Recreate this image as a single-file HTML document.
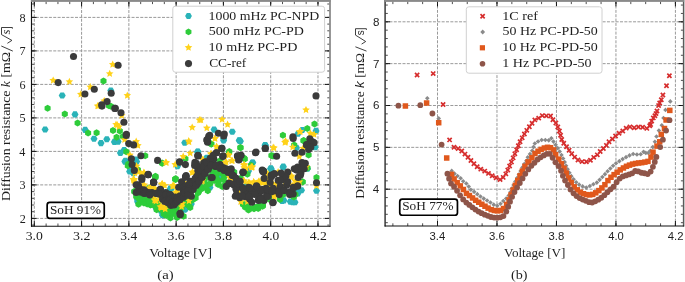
<!DOCTYPE html>
<html><head><meta charset="utf-8"><style>
html,body{margin:0;padding:0;background:#fff;}
body{width:685px;height:282px;overflow:hidden;position:relative;}
svg{position:absolute;left:0;top:0;will-change:transform;}
.grid{stroke:#9a9a9a;stroke-width:1.0;stroke-dasharray:3 1.35;fill:none;}
.frame{fill:none;stroke:#111;stroke-width:1.15;}
.tmaj{stroke:#111;stroke-width:1;fill:none;}
.tmin{stroke:#222;stroke-width:0.8;fill:none;}
text{font-family:"Liberation Serif", serif;fill:#1e1e1e;}
.sans{font-family:"Liberation Sans", sans-serif;}
</style></head><body>
<svg width="685" height="282" viewBox="0 0 685 282">
<line x1="34.30" y1="226.2" x2="34.30" y2="0.0" class="grid"/>
<line x1="81.58" y1="226.2" x2="81.58" y2="0.0" class="grid"/>
<line x1="128.86" y1="226.2" x2="128.86" y2="0.0" class="grid"/>
<line x1="176.14" y1="226.2" x2="176.14" y2="0.0" class="grid"/>
<line x1="223.42" y1="226.2" x2="223.42" y2="0.0" class="grid"/>
<line x1="270.70" y1="226.2" x2="270.70" y2="0.0" class="grid"/>
<line x1="317.98" y1="226.2" x2="317.98" y2="0.0" class="grid"/>
<line x1="31.5" y1="218.40" x2="330.0" y2="218.40" class="grid"/>
<line x1="31.5" y1="184.90" x2="330.0" y2="184.90" class="grid"/>
<line x1="31.5" y1="151.40" x2="330.0" y2="151.40" class="grid"/>
<line x1="31.5" y1="117.90" x2="330.0" y2="117.90" class="grid"/>
<line x1="31.5" y1="84.40" x2="330.0" y2="84.40" class="grid"/>
<line x1="31.5" y1="50.90" x2="330.0" y2="50.90" class="grid"/>
<line x1="31.5" y1="17.40" x2="330.0" y2="17.40" class="grid"/>
<g transform="translate(0.2,0.4)">
<polygon points="65.50,95.10 63.75,92.07 60.25,92.07 58.50,95.10 60.25,98.13 63.75,98.13" fill="#2ab3b8"/>
<polygon points="114.10,90.20 112.35,87.17 108.85,87.17 107.10,90.20 108.85,93.23 112.35,93.23" fill="#2ab3b8"/>
<polygon points="78.30,114.00 76.55,110.97 73.05,110.97 71.30,114.00 73.05,117.03 76.55,117.03" fill="#2ab3b8"/>
<polygon points="48.40,129.10 46.65,126.07 43.15,126.07 41.40,129.10 43.15,132.13 46.65,132.13" fill="#2ab3b8"/>
<polygon points="88.50,129.50 86.75,126.47 83.25,126.47 81.50,129.50 83.25,132.53 86.75,132.53" fill="#2ab3b8"/>
<polygon points="97.30,138.30 95.55,135.27 92.05,135.27 90.30,138.30 92.05,141.33 95.55,141.33" fill="#2ab3b8"/>
<polygon points="104.30,142.70 102.55,139.67 99.05,139.67 97.30,142.70 99.05,145.73 102.55,145.73" fill="#2ab3b8"/>
<polygon points="110.10,138.90 108.35,135.87 104.85,135.87 103.10,138.90 104.85,141.93 108.35,141.93" fill="#2ab3b8"/>
<polygon points="117.70,141.50 115.95,138.47 112.45,138.47 110.70,141.50 112.45,144.53 115.95,144.53" fill="#2ab3b8"/>
<polygon points="121.40,141.20 119.65,138.17 116.15,138.17 114.40,141.20 116.15,144.23 119.65,144.23" fill="#2ab3b8"/>
<polygon points="123.70,152.50 121.95,149.47 118.45,149.47 116.70,152.50 118.45,155.53 121.95,155.53" fill="#2ab3b8"/>
<polygon points="127.40,149.60 125.65,146.57 122.15,146.57 120.40,149.60 122.15,152.63 125.65,152.63" fill="#2ab3b8"/>
<polygon points="128.80,160.50 127.05,157.47 123.55,157.47 121.80,160.50 123.55,163.53 127.05,163.53" fill="#2ab3b8"/>
<polygon points="139.00,159.10 137.25,156.07 133.75,156.07 132.00,159.10 133.75,162.13 137.25,162.13" fill="#2ab3b8"/>
<polygon points="188.00,142.30 186.25,139.27 182.75,139.27 181.00,142.30 182.75,145.33 186.25,145.33" fill="#2ab3b8"/>
<polygon points="201.10,151.80 199.35,148.77 195.85,148.77 194.10,151.80 195.85,154.83 199.35,154.83" fill="#2ab3b8"/>
<polygon points="134.70,169.30 132.95,166.27 129.45,166.27 127.70,169.30 129.45,172.33 132.95,172.33" fill="#2ab3b8"/>
<polygon points="209.90,157.60 208.15,154.57 204.65,154.57 202.90,157.60 204.65,160.63 208.15,160.63" fill="#2ab3b8"/>
<polygon points="128.20,161.20 126.45,158.17 122.95,158.17 121.20,161.20 122.95,164.23 126.45,164.23" fill="#2ab3b8"/>
<polygon points="132.90,171.10 131.15,168.07 127.65,168.07 125.90,171.10 127.65,174.13 131.15,174.13" fill="#2ab3b8"/>
<polygon points="139.90,161.20 138.15,158.17 134.65,158.17 132.90,161.20 134.65,164.23 138.15,164.23" fill="#2ab3b8"/>
<polygon points="173.80,188.10 172.05,185.07 168.55,185.07 166.80,188.10 168.55,191.13 172.05,191.13" fill="#2ab3b8"/>
<polygon points="180.80,165.80 179.05,162.77 175.55,162.77 173.80,165.80 175.55,168.83 179.05,168.83" fill="#2ab3b8"/>
<polygon points="217.40,129.20 215.65,126.17 212.15,126.17 210.40,129.20 212.15,132.23 215.65,132.23" fill="#2ab3b8"/>
<polygon points="235.60,131.40 233.85,128.37 230.35,128.37 228.60,131.40 230.35,134.43 233.85,134.43" fill="#2ab3b8"/>
<polygon points="226.90,138.20 225.15,135.17 221.65,135.17 219.90,138.20 221.65,141.23 225.15,141.23" fill="#2ab3b8"/>
<polygon points="242.90,140.10 241.15,137.07 237.65,137.07 235.90,140.10 237.65,143.13 241.15,143.13" fill="#2ab3b8"/>
<polygon points="301.30,133.30 299.55,130.27 296.05,130.27 294.30,133.30 296.05,136.33 299.55,136.33" fill="#2ab3b8"/>
<polygon points="242.50,140.00 240.75,136.97 237.25,136.97 235.50,140.00 237.25,143.03 240.75,143.03" fill="#2ab3b8"/>
<polygon points="201.00,151.10 199.25,148.07 195.75,148.07 194.00,151.10 195.75,154.13 199.25,154.13" fill="#2ab3b8"/>
<polygon points="210.30,157.30 208.55,154.27 205.05,154.27 203.30,157.30 205.05,160.33 208.55,160.33" fill="#2ab3b8"/>
<polygon points="268.60,144.90 266.85,141.87 263.35,141.87 261.60,144.90 263.35,147.93 266.85,147.93" fill="#2ab3b8"/>
<polygon points="255.60,162.30 253.85,159.27 250.35,159.27 248.60,162.30 250.35,165.33 253.85,165.33" fill="#2ab3b8"/>
<polygon points="274.20,167.90 272.45,164.87 268.95,164.87 267.20,167.90 268.95,170.93 272.45,170.93" fill="#2ab3b8"/>
<polygon points="299.80,147.40 298.05,144.37 294.55,144.37 292.80,147.40 294.55,150.43 298.05,150.43" fill="#2ab3b8"/>
<polygon points="318.50,146.80 316.75,143.77 313.25,143.77 311.50,146.80 313.25,149.83 316.75,149.83" fill="#2ab3b8"/>
<polygon points="286.60,166.10 284.85,163.07 281.35,163.07 279.60,166.10 281.35,169.13 284.85,169.13" fill="#2ab3b8"/>
<polygon points="304.80,189.80 303.05,186.77 299.55,186.77 297.80,189.80 299.55,192.83 303.05,192.83" fill="#2ab3b8"/>
<polygon points="310.80,168.30 309.05,165.27 305.55,165.27 303.80,168.30 305.55,171.33 309.05,171.33" fill="#2ab3b8"/>
<polygon points="319.80,190.40 318.05,187.37 314.55,187.37 312.80,190.40 314.55,193.43 318.05,193.43" fill="#2ab3b8"/>
<polygon points="285.40,200.60 283.65,197.57 280.15,197.57 278.40,200.60 280.15,203.63 283.65,203.63" fill="#2ab3b8"/>
<polygon points="293.60,201.20 291.85,198.17 288.35,198.17 286.60,201.20 288.35,204.23 291.85,204.23" fill="#2ab3b8"/>
<polygon points="298.30,201.80 296.55,198.77 293.05,198.77 291.30,201.80 293.05,204.83 296.55,204.83" fill="#2ab3b8"/>
<polygon points="301.20,193.00 299.45,189.97 295.95,189.97 294.20,193.00 295.95,196.03 299.45,196.03" fill="#2ab3b8"/>
<polygon points="223.20,177.70 221.45,174.67 217.95,174.67 216.20,177.70 217.95,180.73 221.45,180.73" fill="#2ab3b8"/>
<polygon points="213.30,187.00 211.55,183.97 208.05,183.97 206.30,187.00 208.05,190.03 211.55,190.03" fill="#2ab3b8"/>
<polygon points="251.80,170.50 250.05,167.47 246.55,167.47 244.80,170.50 246.55,173.53 250.05,173.53" fill="#2ab3b8"/>
<polygon points="194.60,203.50 192.85,200.47 189.35,200.47 187.60,203.50 189.35,206.53 192.85,206.53" fill="#2ab3b8"/>
<polygon points="248.50,203.50 246.75,200.47 243.25,200.47 241.50,203.50 243.25,206.53 246.75,206.53" fill="#2ab3b8"/>
<polygon points="141.70,202.00 139.95,198.97 136.45,198.97 134.70,202.00 136.45,205.03 139.95,205.03" fill="#2ab3b8"/>
<polygon points="187.90,208.60 186.15,205.57 182.65,205.57 180.90,208.60 182.65,211.63 186.15,211.63" fill="#2ab3b8"/>
<polygon points="166.00,214.80 164.25,211.77 160.75,211.77 159.00,214.80 160.75,217.83 164.25,217.83" fill="#2ab3b8"/>
<polygon points="140.70,199.40 138.95,196.37 135.45,196.37 133.70,199.40 135.45,202.43 138.95,202.43" fill="#2ab3b8"/>
<polygon points="159.40,207.10 157.65,204.07 154.15,204.07 152.40,207.10 154.15,210.13 157.65,210.13" fill="#2ab3b8"/>
<polygon points="268.40,144.70 266.65,141.67 263.15,141.67 261.40,144.70 263.15,147.73 266.65,147.73" fill="#2ab3b8"/>
<polygon points="305.60,129.60 303.85,126.57 300.35,126.57 298.60,129.60 300.35,132.63 303.85,132.63" fill="#2ab3b8"/>
<polygon points="319.30,130.50 317.55,127.47 314.05,127.47 312.30,130.50 314.05,133.53 317.55,133.53" fill="#2ab3b8"/>
<polygon points="173.60,188.80 171.85,185.77 168.35,185.77 166.60,188.80 168.35,191.83 171.85,191.83" fill="#2ab3b8"/>
<polygon points="201.20,151.50 199.45,148.47 195.95,148.47 194.20,151.50 195.95,154.53 199.45,154.53" fill="#2ab3b8"/>
<polygon points="243.70,140.90 241.95,137.87 238.45,137.87 236.70,140.90 238.45,143.93 241.95,143.93" fill="#2ab3b8"/>
<polygon points="226.90,140.00 225.15,136.97 221.65,136.97 219.90,140.00 221.65,143.03 225.15,143.03" fill="#2ab3b8"/>
<polygon points="268.50,145.30 266.75,142.27 263.25,142.27 261.50,145.30 263.25,148.33 266.75,148.33" fill="#2ab3b8"/>
<polygon points="256.10,162.20 254.35,159.17 250.85,159.17 249.10,162.20 250.85,165.23 254.35,165.23" fill="#2ab3b8"/>
<polygon points="273.90,168.40 272.15,165.37 268.65,165.37 266.90,168.40 268.65,171.43 272.15,171.43" fill="#2ab3b8"/>
<polygon points="210.90,157.70 209.15,154.67 205.65,154.67 203.90,157.70 205.65,160.73 209.15,160.73" fill="#2ab3b8"/>
<polygon points="223.30,177.20 221.55,174.17 218.05,174.17 216.30,177.20 218.05,180.23 221.55,180.23" fill="#2ab3b8"/>
<polygon points="249.90,184.30 248.15,181.27 244.65,181.27 242.90,184.30 244.65,187.33 248.15,187.33" fill="#2ab3b8"/>
<polygon points="202.00,188.80 200.25,185.77 196.75,185.77 195.00,188.80 196.75,191.83 200.25,191.83" fill="#2ab3b8"/>
<polygon points="174.60,188.00 172.85,184.97 169.35,184.97 167.60,188.00 169.35,191.03 172.85,191.03" fill="#2ab3b8"/>
<polygon points="133.80,168.50 132.05,165.47 128.55,165.47 126.80,168.50 128.55,171.53 132.05,171.53" fill="#2ab3b8"/>
<polygon points="164.00,210.20 162.25,207.17 158.75,207.17 157.00,210.20 158.75,213.23 162.25,213.23" fill="#2ab3b8"/>
<polygon points="187.90,209.30 186.15,206.27 182.65,206.27 180.90,209.30 182.65,212.33 186.15,212.33" fill="#2ab3b8"/>
<polygon points="274.60,168.80 272.85,165.77 269.35,165.77 267.60,168.80 269.35,171.83 272.85,171.83" fill="#2ab3b8"/>
<polygon points="286.30,166.80 284.55,163.77 281.05,163.77 279.30,166.80 281.05,169.83 284.55,169.83" fill="#2ab3b8"/>
<polygon points="287.20,200.00 285.45,196.97 281.95,196.97 280.20,200.00 281.95,203.03 285.45,203.03" fill="#2ab3b8"/>
<polygon points="296.00,201.90 294.25,198.87 290.75,198.87 289.00,201.90 290.75,204.93 294.25,204.93" fill="#2ab3b8"/>
<polygon points="301.90,189.20 300.15,186.17 296.65,186.17 294.90,189.20 296.65,192.23 300.15,192.23" fill="#2ab3b8"/>
<polygon points="174.80,187.60 173.05,184.57 169.55,184.57 167.80,187.60 169.55,190.63 173.05,190.63" fill="#2ab3b8"/>
<polygon points="161.50,202.40 159.75,199.37 156.25,199.37 154.50,202.40 156.25,205.43 159.75,205.43" fill="#2ab3b8"/>
<polygon points="166.20,212.50 164.45,209.47 160.95,209.47 159.20,212.50 160.95,215.53 164.45,215.53" fill="#2ab3b8"/>
<polygon points="188.80,208.60 187.05,205.57 183.55,205.57 181.80,208.60 183.55,211.63 187.05,211.63" fill="#2ab3b8"/>
<polygon points="136.60,172.80 134.85,169.77 131.35,169.77 129.60,172.80 131.35,175.83 134.85,175.83" fill="#2ab3b8"/>
<polygon points="140.90,201.30 139.15,198.27 135.65,198.27 133.90,201.30 135.65,204.33 139.15,204.33" fill="#2ab3b8"/>
<polygon points="159.50,208.20 157.75,205.17 154.25,205.17 152.50,208.20 154.25,211.23 157.75,211.23" fill="#2ab3b8"/>
<polygon points="165.90,214.60 164.15,211.57 160.65,211.57 158.90,214.60 160.65,217.63 164.15,217.63" fill="#2ab3b8"/>
<polygon points="106.33,78.75 103.30,77.00 100.27,78.75 100.27,82.25 103.30,84.00 106.33,82.25" fill="#2ecc3a"/>
<polygon points="50.43,106.05 47.40,104.30 44.37,106.05 44.37,109.55 47.40,111.30 50.43,109.55" fill="#2ecc3a"/>
<polygon points="67.63,111.75 64.60,110.00 61.57,111.75 61.57,115.25 64.60,117.00 67.63,115.25" fill="#2ecc3a"/>
<polygon points="111.83,103.55 108.80,101.80 105.77,103.55 105.77,107.05 108.80,108.80 111.83,107.05" fill="#2ecc3a"/>
<polygon points="80.43,120.75 77.40,119.00 74.37,120.75 74.37,124.25 77.40,126.00 80.43,124.25" fill="#2ecc3a"/>
<polygon points="90.93,130.95 87.90,129.20 84.87,130.95 84.87,134.45 87.90,136.20 90.93,134.45" fill="#2ecc3a"/>
<polygon points="99.43,130.65 96.40,128.90 93.37,130.65 93.37,134.15 96.40,135.90 99.43,134.15" fill="#2ecc3a"/>
<polygon points="115.83,128.35 112.80,126.60 109.77,128.35 109.77,131.85 112.80,133.60 115.83,131.85" fill="#2ecc3a"/>
<polygon points="122.63,128.75 119.60,127.00 116.57,128.75 116.57,132.25 119.60,134.00 122.63,132.25" fill="#2ecc3a"/>
<polygon points="119.43,135.05 116.40,133.30 113.37,135.05 113.37,138.55 116.40,140.30 119.43,138.55" fill="#2ecc3a"/>
<polygon points="125.73,134.25 122.70,132.50 119.67,134.25 119.67,137.75 122.70,139.50 125.73,137.75" fill="#2ecc3a"/>
<polygon points="113.73,104.05 110.70,102.30 107.67,104.05 107.67,107.55 110.70,109.30 113.73,107.55" fill="#2ecc3a"/>
<polygon points="129.13,149.65 126.10,147.90 123.07,149.65 123.07,153.15 126.10,154.90 129.13,153.15" fill="#2ecc3a"/>
<polygon points="148.03,153.65 145.00,151.90 141.97,153.65 141.97,157.15 145.00,158.90 148.03,157.15" fill="#2ecc3a"/>
<polygon points="131.23,161.75 128.20,160.00 125.17,161.75 125.17,165.25 128.20,167.00 131.23,165.25" fill="#2ecc3a"/>
<polygon points="140.73,167.55 137.70,165.80 134.67,167.55 134.67,171.05 137.70,172.80 140.73,171.05" fill="#2ecc3a"/>
<polygon points="164.83,160.95 161.80,159.20 158.77,160.95 158.77,164.45 161.80,166.20 164.83,164.45" fill="#2ecc3a"/>
<polygon points="188.23,156.65 185.20,154.90 182.17,156.65 182.17,160.15 185.20,161.90 188.23,160.15" fill="#2ecc3a"/>
<polygon points="158.33,174.15 155.30,172.40 152.27,174.15 152.27,177.65 155.30,179.40 158.33,177.65" fill="#2ecc3a"/>
<polygon points="130.63,163.55 127.60,161.80 124.57,163.55 124.57,167.05 127.60,168.80 130.63,167.05" fill="#2ecc3a"/>
<polygon points="158.13,175.25 155.10,173.50 152.07,175.25 152.07,178.75 155.10,180.50 158.13,178.75" fill="#2ecc3a"/>
<polygon points="165.13,161.15 162.10,159.40 159.07,161.15 159.07,164.65 162.10,166.40 165.13,164.65" fill="#2ecc3a"/>
<polygon points="178.03,176.95 175.00,175.20 171.97,176.95 171.97,180.45 175.00,182.20 178.03,180.45" fill="#2ecc3a"/>
<polygon points="137.03,189.25 134.00,187.50 130.97,189.25 130.97,192.75 134.00,194.50 137.03,192.75" fill="#2ecc3a"/>
<polygon points="200.23,187.45 197.20,185.70 194.17,187.45 194.17,190.95 197.20,192.70 200.23,190.95" fill="#2ecc3a"/>
<polygon points="151.73,185.75 148.70,184.00 145.67,185.75 145.67,189.25 148.70,191.00 151.73,189.25" fill="#2ecc3a"/>
<polygon points="285.73,133.15 282.70,131.40 279.67,133.15 279.67,136.65 282.70,138.40 285.73,136.65" fill="#2ecc3a"/>
<polygon points="310.13,126.25 307.10,124.50 304.07,126.25 304.07,129.75 307.10,131.50 310.13,129.75" fill="#2ecc3a"/>
<polygon points="317.33,121.85 314.30,120.10 311.27,121.85 311.27,125.35 314.30,127.10 317.33,125.35" fill="#2ecc3a"/>
<polygon points="306.33,138.65 303.30,136.90 300.27,138.65 300.27,142.15 303.30,143.90 306.33,142.15" fill="#2ecc3a"/>
<polygon points="297.03,142.95 294.00,141.20 290.97,142.95 290.97,146.45 294.00,148.20 297.03,146.45" fill="#2ecc3a"/>
<polygon points="214.13,141.95 211.10,140.20 208.07,141.95 208.07,145.45 211.10,147.20 214.13,145.45" fill="#2ecc3a"/>
<polygon points="243.33,145.65 240.30,143.90 237.27,145.65 237.27,149.15 240.30,150.90 243.33,149.15" fill="#2ecc3a"/>
<polygon points="232.13,149.35 229.10,147.60 226.07,149.35 226.07,152.85 229.10,154.60 232.13,152.85" fill="#2ecc3a"/>
<polygon points="247.63,156.85 244.60,155.10 241.57,156.85 241.57,160.35 244.60,162.10 247.63,160.35" fill="#2ecc3a"/>
<polygon points="275.83,153.75 272.80,152.00 269.77,153.75 269.77,157.25 272.80,159.00 275.83,157.25" fill="#2ecc3a"/>
<polygon points="222.83,158.65 219.80,156.90 216.77,158.65 216.77,162.15 219.80,163.90 222.83,162.15" fill="#2ecc3a"/>
<polygon points="253.83,163.05 250.80,161.30 247.77,163.05 247.77,166.55 250.80,168.30 253.83,166.55" fill="#2ecc3a"/>
<polygon points="306.53,138.45 303.50,136.70 300.47,138.45 300.47,141.95 303.50,143.70 306.53,141.95" fill="#2ecc3a"/>
<polygon points="311.43,152.75 308.40,151.00 305.37,152.75 305.37,156.25 308.40,158.00 311.43,156.25" fill="#2ecc3a"/>
<polygon points="310.33,165.95 307.30,164.20 304.27,165.95 304.27,169.45 307.30,171.20 310.33,169.45" fill="#2ecc3a"/>
<polygon points="319.33,175.35 316.30,173.60 313.27,175.35 313.27,178.85 316.30,180.60 319.33,178.85" fill="#2ecc3a"/>
<polygon points="305.43,179.75 302.40,178.00 299.37,179.75 299.37,183.25 302.40,185.00 305.43,183.25" fill="#2ecc3a"/>
<polygon points="276.23,192.95 273.20,191.20 270.17,192.95 270.17,196.45 273.20,198.20 276.23,196.45" fill="#2ecc3a"/>
<polygon points="286.13,192.45 283.10,190.70 280.07,192.45 280.07,195.95 283.10,197.70 286.13,195.95" fill="#2ecc3a"/>
<polygon points="298.23,192.45 295.20,190.70 292.17,192.45 292.17,195.95 295.20,197.70 298.23,195.95" fill="#2ecc3a"/>
<polygon points="259.23,205.25 256.20,203.50 253.17,205.25 253.17,208.75 256.20,210.50 259.23,208.75" fill="#2ecc3a"/>
<polygon points="265.63,203.55 262.60,201.80 259.57,203.55 259.57,207.05 262.60,208.80 265.63,207.05" fill="#2ecc3a"/>
<polygon points="283.13,195.95 280.10,194.20 277.07,195.95 277.07,199.45 280.10,201.20 283.13,199.45" fill="#2ecc3a"/>
<polygon points="296.63,194.75 293.60,193.00 290.57,194.75 290.57,198.25 293.60,200.00 296.63,198.25" fill="#2ecc3a"/>
<polygon points="272.03,197.05 269.00,195.30 265.97,197.05 265.97,200.55 269.00,202.30 272.03,200.55" fill="#2ecc3a"/>
<polygon points="219.43,172.05 216.40,170.30 213.37,172.05 213.37,175.55 216.40,177.30 219.43,175.55" fill="#2ecc3a"/>
<polygon points="221.63,178.65 218.60,176.90 215.57,178.65 215.57,182.15 218.60,183.90 221.63,182.15" fill="#2ecc3a"/>
<polygon points="227.13,174.25 224.10,172.50 221.07,174.25 221.07,177.75 224.10,179.50 227.13,177.75" fill="#2ecc3a"/>
<polygon points="228.23,180.35 225.20,178.60 222.17,180.35 222.17,183.85 225.20,185.60 228.23,183.85" fill="#2ecc3a"/>
<polygon points="209.53,183.05 206.50,181.30 203.47,183.05 203.47,186.55 206.50,188.30 209.53,186.55" fill="#2ecc3a"/>
<polygon points="205.13,186.35 202.10,184.60 199.07,186.35 199.07,189.85 202.10,191.60 205.13,189.85" fill="#2ecc3a"/>
<polygon points="200.73,190.75 197.70,189.00 194.67,190.75 194.67,194.25 197.70,196.00 200.73,194.25" fill="#2ecc3a"/>
<polygon points="210.63,188.55 207.60,186.80 204.57,188.55 204.57,192.05 207.60,193.80 210.63,192.05" fill="#2ecc3a"/>
<polygon points="237.03,169.85 234.00,168.10 230.97,169.85 230.97,173.35 234.00,175.10 237.03,173.35" fill="#2ecc3a"/>
<polygon points="243.63,176.45 240.60,174.70 237.57,176.45 237.57,179.95 240.60,181.70 243.63,179.95" fill="#2ecc3a"/>
<polygon points="250.23,172.05 247.20,170.30 244.17,172.05 244.17,175.55 247.20,177.30 250.23,175.55" fill="#2ecc3a"/>
<polygon points="218.33,176.45 215.30,174.70 212.27,176.45 212.27,179.95 215.30,181.70 218.33,179.95" fill="#2ecc3a"/>
<polygon points="248.03,205.05 245.00,203.30 241.97,205.05 241.97,208.55 245.00,210.30 248.03,208.55" fill="#2ecc3a"/>
<polygon points="251.33,207.75 248.30,206.00 245.27,207.75 245.27,211.25 248.30,213.00 251.33,211.25" fill="#2ecc3a"/>
<polygon points="256.83,206.65 253.80,204.90 250.77,206.65 250.77,210.15 253.80,211.90 256.83,210.15" fill="#2ecc3a"/>
<polygon points="261.23,204.45 258.20,202.70 255.17,204.45 255.17,207.95 258.20,209.70 261.23,207.95" fill="#2ecc3a"/>
<polygon points="265.63,202.85 262.60,201.10 259.57,202.85 259.57,206.35 262.60,208.10 265.63,206.35" fill="#2ecc3a"/>
<polygon points="245.83,202.25 242.80,200.50 239.77,202.25 239.77,205.75 242.80,207.50 245.83,205.75" fill="#2ecc3a"/>
<polygon points="195.23,197.85 192.20,196.10 189.17,197.85 189.17,201.35 192.20,203.10 195.23,201.35" fill="#2ecc3a"/>
<polygon points="137.93,189.25 134.90,187.50 131.87,189.25 131.87,192.75 134.90,194.50 137.93,192.75" fill="#2ecc3a"/>
<polygon points="142.33,196.95 139.30,195.20 136.27,196.95 136.27,200.45 139.30,202.20 142.33,200.45" fill="#2ecc3a"/>
<polygon points="152.23,200.25 149.20,198.50 146.17,200.25 146.17,203.75 149.20,205.50 152.23,203.75" fill="#2ecc3a"/>
<polygon points="159.93,202.45 156.90,200.70 153.87,202.45 153.87,205.95 156.90,207.70 159.93,205.95" fill="#2ecc3a"/>
<polygon points="179.73,207.95 176.70,206.20 173.67,207.95 173.67,211.45 176.70,213.20 179.73,211.45" fill="#2ecc3a"/>
<polygon points="189.63,202.45 186.60,200.70 183.57,202.45 183.57,205.95 186.60,207.70 189.63,205.95" fill="#2ecc3a"/>
<polygon points="198.43,195.85 195.40,194.10 192.37,195.85 192.37,199.35 195.40,201.10 198.43,199.35" fill="#2ecc3a"/>
<polygon points="201.73,189.25 198.70,187.50 195.67,189.25 195.67,192.75 198.70,194.50 201.73,192.75" fill="#2ecc3a"/>
<polygon points="141.33,202.05 138.30,200.30 135.27,202.05 135.27,205.55 138.30,207.30 141.33,205.55" fill="#2ecc3a"/>
<polygon points="173.23,215.85 170.20,214.10 167.17,215.85 167.17,219.35 170.20,221.10 173.23,219.35" fill="#2ecc3a"/>
<polygon points="179.83,215.25 176.80,213.50 173.77,215.25 173.77,218.75 176.80,220.50 179.83,218.75" fill="#2ecc3a"/>
<polygon points="186.43,214.15 183.40,212.40 180.37,214.15 180.37,217.65 183.40,219.40 186.43,217.65" fill="#2ecc3a"/>
<polygon points="190.83,200.95 187.80,199.20 184.77,200.95 184.77,204.45 187.80,206.20 190.83,204.45" fill="#2ecc3a"/>
<polygon points="196.33,196.55 193.30,194.80 190.27,196.55 190.27,200.05 193.30,201.80 196.33,200.05" fill="#2ecc3a"/>
<polygon points="159.53,202.65 156.50,200.90 153.47,202.65 153.47,206.15 156.50,207.90 159.53,206.15" fill="#2ecc3a"/>
<polygon points="166.63,211.95 163.60,210.20 160.57,211.95 160.57,215.45 163.60,217.20 166.63,215.45" fill="#2ecc3a"/>
<polygon points="169.03,213.25 166.00,211.50 162.97,213.25 162.97,216.75 166.00,218.50 169.03,216.75" fill="#2ecc3a"/>
<polygon points="176.03,211.25 173.00,209.50 169.97,211.25 169.97,214.75 173.00,216.50 176.03,214.75" fill="#2ecc3a"/>
<polygon points="183.03,210.25 180.00,208.50 176.97,210.25 176.97,213.75 180.00,215.50 183.03,213.75" fill="#2ecc3a"/>
<polygon points="145.03,199.25 142.00,197.50 138.97,199.25 138.97,202.75 142.00,204.50 145.03,202.75" fill="#2ecc3a"/>
<polygon points="139.03,194.25 136.00,192.50 132.97,194.25 132.97,197.75 136.00,199.50 139.03,197.75" fill="#2ecc3a"/>
<polygon points="193.03,205.25 190.00,203.50 186.97,205.25 186.97,208.75 190.00,210.50 193.03,208.75" fill="#2ecc3a"/>
<polygon points="214.03,141.75 211.00,140.00 207.97,141.75 207.97,145.25 211.00,147.00 214.03,145.25" fill="#2ecc3a"/>
<polygon points="243.23,145.35 240.20,143.60 237.17,145.35 237.17,148.85 240.20,150.60 243.23,148.85" fill="#2ecc3a"/>
<polygon points="246.83,155.95 243.80,154.20 240.77,155.95 240.77,159.45 243.80,161.20 246.83,159.45" fill="#2ecc3a"/>
<polygon points="231.73,150.65 228.70,148.90 225.67,150.65 225.67,154.15 228.70,155.90 231.73,154.15" fill="#2ecc3a"/>
<polygon points="222.83,161.25 219.80,159.50 216.77,161.25 216.77,164.75 219.80,166.50 222.83,164.75" fill="#2ecc3a"/>
<polygon points="215.73,167.55 212.70,165.80 209.67,167.55 209.67,171.05 212.70,172.80 215.73,171.05" fill="#2ecc3a"/>
<polygon points="219.33,171.05 216.30,169.30 213.27,171.05 213.27,174.55 216.30,176.30 219.33,174.55" fill="#2ecc3a"/>
<polygon points="224.63,171.05 221.60,169.30 218.57,171.05 218.57,174.55 221.60,176.30 224.63,174.55" fill="#2ecc3a"/>
<polygon points="219.33,176.35 216.30,174.60 213.27,176.35 213.27,179.85 216.30,181.60 219.33,179.85" fill="#2ecc3a"/>
<polygon points="226.43,177.25 223.40,175.50 220.37,177.25 220.37,180.75 223.40,182.50 226.43,180.75" fill="#2ecc3a"/>
<polygon points="203.33,184.35 200.30,182.60 197.27,184.35 197.27,187.85 200.30,189.60 203.33,187.85" fill="#2ecc3a"/>
<polygon points="209.53,182.55 206.50,180.80 203.47,182.55 203.47,186.05 206.50,187.80 209.53,186.05" fill="#2ecc3a"/>
<polygon points="274.23,153.25 271.20,151.50 268.17,153.25 268.17,156.75 271.20,158.50 274.23,156.75" fill="#2ecc3a"/>
<polygon points="270.73,179.05 267.70,177.30 264.67,179.05 264.67,182.55 267.70,184.30 270.73,182.55" fill="#2ecc3a"/>
<polygon points="243.23,176.35 240.20,174.60 237.17,176.35 237.17,179.85 240.20,181.60 243.23,179.85" fill="#2ecc3a"/>
<polygon points="158.13,174.75 155.10,173.00 152.07,174.75 152.07,178.25 155.10,180.00 158.13,178.25" fill="#2ecc3a"/>
<polygon points="178.53,176.55 175.50,174.80 172.47,176.55 172.47,180.05 175.50,181.80 178.53,180.05" fill="#2ecc3a"/>
<polygon points="249.73,204.05 246.70,202.30 243.67,204.05 243.67,207.55 246.70,209.30 249.73,207.55" fill="#2ecc3a"/>
<polygon points="257.53,205.05 254.50,203.30 251.47,205.05 251.47,208.55 254.50,210.30 257.53,208.55" fill="#2ecc3a"/>
<polygon points="265.33,204.05 262.30,202.30 259.27,204.05 259.27,207.55 262.30,209.30 265.33,207.55" fill="#2ecc3a"/>
<polygon points="282.83,197.25 279.80,195.50 276.77,197.25 276.77,200.75 279.80,202.50 282.83,200.75" fill="#2ecc3a"/>
<polygon points="305.33,179.65 302.30,177.90 299.27,179.65 299.27,183.15 302.30,184.90 305.33,183.15" fill="#2ecc3a"/>
<polygon points="253.03,206.25 250.00,204.50 246.97,206.25 246.97,209.75 250.00,211.50 253.03,209.75" fill="#2ecc3a"/>
<polygon points="261.03,206.25 258.00,204.50 254.97,206.25 254.97,209.75 258.00,211.50 261.03,209.75" fill="#2ecc3a"/>
<polygon points="207.03,178.25 204.00,176.50 200.97,178.25 200.97,181.75 204.00,183.50 207.03,181.75" fill="#2ecc3a"/>
<polygon points="211.03,175.25 208.00,173.50 204.97,175.25 204.97,178.75 208.00,180.50 211.03,178.75" fill="#2ecc3a"/>
<polygon points="215.03,172.25 212.00,170.50 208.97,172.25 208.97,175.75 212.00,177.50 215.03,175.75" fill="#2ecc3a"/>
<polygon points="209.03,184.25 206.00,182.50 202.97,184.25 202.97,187.75 206.00,189.50 209.03,187.75" fill="#2ecc3a"/>
<polygon points="213.03,181.25 210.00,179.50 206.97,181.25 206.97,184.75 210.00,186.50 213.03,184.75" fill="#2ecc3a"/>
<polygon points="217.03,178.25 214.00,176.50 210.97,178.25 210.97,181.75 214.00,183.50 217.03,181.75" fill="#2ecc3a"/>
<polygon points="221.03,182.25 218.00,180.50 214.97,182.25 214.97,185.75 218.00,187.50 221.03,185.75" fill="#2ecc3a"/>
<polygon points="225.03,184.25 222.00,182.50 218.97,184.25 218.97,187.75 222.00,189.50 225.03,187.75" fill="#2ecc3a"/>
<polygon points="157.93,174.95 154.90,173.20 151.87,174.95 151.87,178.45 154.90,180.20 157.93,178.45" fill="#2ecc3a"/>
<polygon points="178.23,177.25 175.20,175.50 172.17,177.25 172.17,180.75 175.20,182.50 178.23,180.75" fill="#2ecc3a"/>
<polygon points="137.73,189.75 134.70,188.00 131.67,189.75 131.67,193.25 134.70,195.00 137.73,193.25" fill="#2ecc3a"/>
<polygon points="142.33,196.75 139.30,195.00 136.27,196.75 136.27,200.25 139.30,202.00 142.33,200.25" fill="#2ecc3a"/>
<polygon points="148.63,199.85 145.60,198.10 142.57,199.85 142.57,203.35 145.60,205.10 148.63,203.35" fill="#2ecc3a"/>
<polygon points="153.23,202.95 150.20,201.20 147.17,202.95 147.17,206.45 150.20,208.20 153.23,206.45" fill="#2ecc3a"/>
<polygon points="159.53,207.65 156.50,205.90 153.47,207.65 153.47,211.15 156.50,212.90 159.53,211.15" fill="#2ecc3a"/>
<polygon points="170.43,210.75 167.40,209.00 164.37,210.75 164.37,214.25 167.40,216.00 170.43,214.25" fill="#2ecc3a"/>
<polygon points="176.63,207.65 173.60,205.90 170.57,207.65 170.57,211.15 173.60,212.90 176.63,211.15" fill="#2ecc3a"/>
<polygon points="184.43,205.25 181.40,203.50 178.37,205.25 178.37,208.75 181.40,210.50 184.43,208.75" fill="#2ecc3a"/>
<polygon points="189.13,201.45 186.10,199.70 183.07,201.45 183.07,204.95 186.10,206.70 189.13,204.95" fill="#2ecc3a"/>
<polygon points="192.23,198.25 189.20,196.50 186.17,198.25 186.17,201.75 189.20,203.50 192.23,201.75" fill="#2ecc3a"/>
<polygon points="168.83,212.25 165.80,210.50 162.77,212.25 162.77,215.75 165.80,217.50 168.83,215.75" fill="#2ecc3a"/>
<polygon points="150.03,201.75 147.00,200.00 143.97,201.75 143.97,205.25 147.00,207.00 150.03,205.25" fill="#2ecc3a"/>
<polygon points="154.03,202.25 151.00,200.50 147.97,202.25 147.97,205.75 151.00,207.50 154.03,205.75" fill="#2ecc3a"/>
<polygon points="146.73,200.75 143.70,199.00 140.67,200.75 140.67,204.25 143.70,206.00 146.73,204.25" fill="#2ecc3a"/>
<polygon points="143.23,193.04 140.20,191.29 137.17,193.04 137.17,196.54 140.20,198.29 143.23,196.54" fill="#2ecc3a"/>
<polygon points="143.50,196.48 140.47,194.73 137.44,196.48 137.44,199.98 140.47,201.73 143.50,199.98" fill="#2ecc3a"/>
<polygon points="146.61,193.90 143.58,192.15 140.55,193.90 140.55,197.40 143.58,199.15 146.61,197.40" fill="#2ecc3a"/>
<polygon points="145.48,196.55 142.45,194.80 139.42,196.55 139.42,200.05 142.45,201.80 145.48,200.05" fill="#2ecc3a"/>
<polygon points="148.74,193.93 145.71,192.18 142.68,193.93 142.68,197.43 145.71,199.18 148.74,197.43" fill="#2ecc3a"/>
<polygon points="148.67,196.49 145.64,194.74 142.61,196.49 142.61,199.99 145.64,201.74 148.67,199.99" fill="#2ecc3a"/>
<polygon points="151.18,194.73 148.15,192.98 145.12,194.73 145.12,198.23 148.15,199.98 151.18,198.23" fill="#2ecc3a"/>
<polygon points="151.30,198.32 148.27,196.57 145.24,198.32 145.24,201.82 148.27,203.57 151.30,201.82" fill="#2ecc3a"/>
<polygon points="152.25,195.41 149.22,193.66 146.19,195.41 146.19,198.91 149.22,200.66 152.25,198.91" fill="#2ecc3a"/>
<polygon points="152.68,199.45 149.65,197.70 146.62,199.45 146.62,202.95 149.65,204.70 152.68,202.95" fill="#2ecc3a"/>
<polygon points="156.66,197.90 153.63,196.15 150.59,197.90 150.59,201.40 153.63,203.15 156.66,201.40" fill="#2ecc3a"/>
<polygon points="156.71,201.08 153.68,199.33 150.64,201.08 150.64,204.58 153.68,206.33 156.71,204.58" fill="#2ecc3a"/>
<polygon points="158.22,199.30 155.19,197.55 152.16,199.30 152.16,202.80 155.19,204.55 158.22,202.80" fill="#2ecc3a"/>
<polygon points="157.23,203.40 154.20,201.65 151.17,203.40 151.17,206.90 154.20,208.65 157.23,206.90" fill="#2ecc3a"/>
<polygon points="160.77,201.97 157.74,200.22 154.70,201.97 154.70,205.47 157.74,207.22 160.77,205.47" fill="#2ecc3a"/>
<polygon points="162.00,205.96 158.97,204.21 155.94,205.96 155.94,209.46 158.97,211.21 162.00,209.46" fill="#2ecc3a"/>
<polygon points="162.69,204.30 159.66,202.55 156.63,204.30 156.63,207.80 159.66,209.55 162.69,207.80" fill="#2ecc3a"/>
<polygon points="163.09,207.16 160.06,205.41 157.03,207.16 157.03,210.66 160.06,212.41 163.09,210.66" fill="#2ecc3a"/>
<polygon points="165.76,206.20 162.73,204.45 159.70,206.20 159.70,209.70 162.73,211.45 165.76,209.70" fill="#2ecc3a"/>
<polygon points="166.54,209.43 163.51,207.68 160.47,209.43 160.47,212.93 163.51,214.68 166.54,212.93" fill="#2ecc3a"/>
<polygon points="168.66,206.51 165.63,204.76 162.60,206.51 162.60,210.01 165.63,211.76 168.66,210.01" fill="#2ecc3a"/>
<polygon points="167.81,209.55 164.78,207.80 161.75,209.55 161.75,213.05 164.78,214.80 167.81,213.05" fill="#2ecc3a"/>
<polygon points="170.66,206.87 167.63,205.12 164.60,206.87 164.60,210.37 167.63,212.12 170.66,210.37" fill="#2ecc3a"/>
<polygon points="170.91,210.71 167.88,208.96 164.85,210.71 164.85,214.21 167.88,215.96 170.91,214.21" fill="#2ecc3a"/>
<polygon points="172.24,207.96 169.21,206.21 166.17,207.96 166.17,211.46 169.21,213.21 172.24,211.46" fill="#2ecc3a"/>
<polygon points="172.77,210.72 169.74,208.97 166.71,210.72 166.71,214.22 169.74,215.97 172.77,214.22" fill="#2ecc3a"/>
<polygon points="176.74,206.45 173.71,204.70 170.68,206.45 170.68,209.95 173.71,211.70 176.74,209.95" fill="#2ecc3a"/>
<polygon points="175.94,209.65 172.91,207.90 169.87,209.65 169.87,213.15 172.91,214.90 175.94,213.15" fill="#2ecc3a"/>
<polygon points="178.36,205.22 175.33,203.47 172.30,205.22 172.30,208.72 175.33,210.47 178.36,208.72" fill="#2ecc3a"/>
<polygon points="178.79,208.38 175.76,206.63 172.73,208.38 172.73,211.88 175.76,213.63 178.79,211.88" fill="#2ecc3a"/>
<polygon points="181.63,203.60 178.60,201.85 175.57,203.60 175.57,207.10 178.60,208.85 181.63,207.10" fill="#2ecc3a"/>
<polygon points="180.46,206.74 177.43,204.99 174.40,206.74 174.40,210.24 177.43,211.99 180.46,210.24" fill="#2ecc3a"/>
<polygon points="182.82,201.84 179.79,200.09 176.75,201.84 176.75,205.34 179.79,207.09 182.82,205.34" fill="#2ecc3a"/>
<polygon points="182.25,204.41 179.21,202.66 176.18,204.41 176.18,207.91 179.21,209.66 182.25,207.91" fill="#2ecc3a"/>
<polygon points="185.72,199.10 182.69,197.35 179.66,199.10 179.66,202.60 182.69,204.35 185.72,202.60" fill="#2ecc3a"/>
<polygon points="185.75,202.06 182.71,200.31 179.68,202.06 179.68,205.56 182.71,207.31 185.75,205.56" fill="#2ecc3a"/>
<polygon points="188.72,197.28 185.69,195.53 182.66,197.28 182.66,200.78 185.69,202.53 188.72,200.78" fill="#2ecc3a"/>
<polygon points="187.78,199.78 184.75,198.03 181.72,199.78 181.72,203.28 184.75,205.03 187.78,203.28" fill="#2ecc3a"/>
<polygon points="191.27,194.52 188.24,192.77 185.21,194.52 185.21,198.02 188.24,199.77 191.27,198.02" fill="#2ecc3a"/>
<polygon points="190.60,197.69 187.57,195.94 184.54,197.69 184.54,201.19 187.57,202.94 190.60,201.19" fill="#2ecc3a"/>
<polygon points="191.71,201.02 188.68,199.27 185.64,201.02 185.64,204.52 188.68,206.27 191.71,204.52" fill="#2ecc3a"/>
<polygon points="140.89,186.07 139.76,188.52 137.09,188.84 139.07,190.67 138.54,193.31 140.89,191.99 143.24,193.31 142.72,190.67 144.70,188.84 142.02,188.52" fill="#ffd21a"/>
<polygon points="144.18,187.08 143.05,189.53 140.38,189.85 142.36,191.68 141.83,194.32 144.18,193.00 146.53,194.32 146.01,191.68 147.99,189.85 145.31,189.53" fill="#ffd21a"/>
<polygon points="145.84,188.22 144.71,190.67 142.03,190.99 144.01,192.81 143.49,195.46 145.84,194.14 148.19,195.46 147.66,192.81 149.64,190.99 146.96,190.67" fill="#ffd21a"/>
<polygon points="150.35,189.48 149.22,191.93 146.54,192.24 148.52,194.07 148.00,196.72 150.35,195.40 152.70,196.72 152.17,194.07 154.15,192.24 151.48,191.93" fill="#ffd21a"/>
<polygon points="149.62,190.09 148.50,192.54 145.82,192.85 147.80,194.68 147.27,197.33 149.62,196.01 151.98,197.33 151.45,194.68 153.43,192.85 150.75,192.54" fill="#ffd21a"/>
<polygon points="153.85,191.39 152.73,193.84 150.05,194.15 152.03,195.98 151.50,198.63 153.85,197.31 156.21,198.63 155.68,195.98 157.66,194.15 154.98,193.84" fill="#ffd21a"/>
<polygon points="154.30,190.39 153.17,192.84 150.49,193.15 152.47,194.98 151.95,197.63 154.30,196.31 156.65,197.63 156.12,194.98 158.10,193.15 155.43,192.84" fill="#ffd21a"/>
<polygon points="160.49,196.21 159.36,198.65 156.69,198.97 158.67,200.80 158.14,203.44 160.49,202.13 162.84,203.44 162.32,200.80 164.30,198.97 161.62,198.65" fill="#ffd21a"/>
<polygon points="159.10,192.29 157.97,194.74 155.29,195.06 157.27,196.89 156.75,199.53 159.10,198.21 161.45,199.53 160.92,196.89 162.90,195.06 160.23,194.74" fill="#ffd21a"/>
<polygon points="164.57,201.57 163.44,204.02 160.76,204.33 162.74,206.16 162.22,208.81 164.57,207.49 166.92,208.81 166.39,206.16 168.37,204.33 165.70,204.02" fill="#ffd21a"/>
<polygon points="164.47,196.06 163.35,198.51 160.67,198.82 162.65,200.65 162.12,203.29 164.47,201.98 166.83,203.29 166.30,200.65 168.28,198.82 165.60,198.51" fill="#ffd21a"/>
<polygon points="170.15,198.47 169.02,200.92 166.35,201.24 168.33,203.07 167.80,205.71 170.15,204.39 172.50,205.71 171.98,203.07 173.96,201.24 171.28,200.92" fill="#ffd21a"/>
<polygon points="169.84,197.01 168.71,199.46 166.04,199.78 168.02,201.61 167.49,204.25 169.84,202.93 172.19,204.25 171.67,201.61 173.65,199.78 170.97,199.46" fill="#ffd21a"/>
<polygon points="175.33,190.81 174.20,193.26 171.53,193.58 173.51,195.41 172.98,198.05 175.33,196.73 177.68,198.05 177.16,195.41 179.14,193.58 176.46,193.26" fill="#ffd21a"/>
<polygon points="174.99,190.36 173.86,192.81 171.18,193.12 173.16,194.95 172.64,197.60 174.99,196.28 177.34,197.60 176.81,194.95 178.79,193.12 176.12,192.81" fill="#ffd21a"/>
<polygon points="178.76,195.62 177.63,198.07 174.96,198.39 176.94,200.22 176.41,202.86 178.76,201.54 181.11,202.86 180.59,200.22 182.57,198.39 179.89,198.07" fill="#ffd21a"/>
<polygon points="180.90,194.05 179.77,196.49 177.10,196.81 179.07,198.64 178.55,201.28 180.90,199.97 183.25,201.28 182.73,198.64 184.70,196.81 182.03,196.49" fill="#ffd21a"/>
<polygon points="185.08,189.10 183.95,191.55 181.27,191.86 183.25,193.69 182.72,196.34 185.08,195.02 187.43,196.34 186.90,193.69 188.88,191.86 186.20,191.55" fill="#ffd21a"/>
<polygon points="184.87,183.96 183.74,186.41 181.06,186.72 183.04,188.55 182.52,191.20 184.87,189.88 187.22,191.20 186.70,188.55 188.67,186.72 186.00,186.41" fill="#ffd21a"/>
<polygon points="190.19,181.51 189.06,183.96 186.39,184.27 188.36,186.10 187.84,188.74 190.19,187.43 192.54,188.74 192.02,186.10 193.99,184.27 191.32,183.96" fill="#ffd21a"/>
<polygon points="112.50,60.10 111.37,62.55 108.70,62.86 110.67,64.69 110.15,67.34 112.50,66.02 114.85,67.34 114.33,64.69 116.30,62.86 113.63,62.55" fill="#ffd21a"/>
<polygon points="109.50,69.30 108.37,71.75 105.70,72.06 107.67,73.89 107.15,76.54 109.50,75.22 111.85,76.54 111.33,73.89 113.30,72.06 110.63,71.75" fill="#ffd21a"/>
<polygon points="53.00,76.00 51.87,78.45 49.20,78.76 51.17,80.59 50.65,83.24 53.00,81.92 55.35,83.24 54.83,80.59 56.80,78.76 54.13,78.45" fill="#ffd21a"/>
<polygon points="69.20,77.30 68.07,79.75 65.40,80.06 67.37,81.89 66.85,84.54 69.20,83.22 71.55,84.54 71.03,81.89 73.00,80.06 70.33,79.75" fill="#ffd21a"/>
<polygon points="90.10,82.60 88.97,85.05 86.30,85.36 88.27,87.19 87.75,89.84 90.10,88.52 92.45,89.84 91.93,87.19 93.90,85.36 91.23,85.05" fill="#ffd21a"/>
<polygon points="80.60,89.90 79.47,92.35 76.80,92.66 78.77,94.49 78.25,97.14 80.60,95.82 82.95,97.14 82.43,94.49 84.40,92.66 81.73,92.35" fill="#ffd21a"/>
<polygon points="127.10,91.10 125.97,93.55 123.30,93.86 125.27,95.69 124.75,98.34 127.10,97.02 129.45,98.34 128.93,95.69 130.90,93.86 128.23,93.55" fill="#ffd21a"/>
<polygon points="98.20,101.60 97.07,104.05 94.40,104.36 96.37,106.19 95.85,108.84 98.20,107.52 100.55,108.84 100.03,106.19 102.00,104.36 99.33,104.05" fill="#ffd21a"/>
<polygon points="104.00,96.50 102.87,98.95 100.20,99.26 102.17,101.09 101.65,103.74 104.00,102.42 106.35,103.74 105.83,101.09 107.80,99.26 105.13,98.95" fill="#ffd21a"/>
<polygon points="97.40,101.70 96.27,104.15 93.60,104.46 95.57,106.29 95.05,108.94 97.40,107.62 99.75,108.94 99.23,106.29 101.20,104.46 98.53,104.15" fill="#ffd21a"/>
<polygon points="117.10,120.70 115.97,123.15 113.30,123.46 115.27,125.29 114.75,127.94 117.10,126.62 119.45,127.94 118.93,125.29 120.90,123.46 118.23,123.15" fill="#ffd21a"/>
<polygon points="121.50,111.20 120.37,113.65 117.70,113.96 119.67,115.79 119.15,118.44 121.50,117.12 123.85,118.44 123.33,115.79 125.30,113.96 122.63,113.65" fill="#ffd21a"/>
<polygon points="124.40,135.30 123.27,137.75 120.60,138.06 122.57,139.89 122.05,142.54 124.40,141.22 126.75,142.54 126.23,139.89 128.20,138.06 125.53,137.75" fill="#ffd21a"/>
<polygon points="115.80,120.10 114.67,122.55 112.00,122.86 113.97,124.69 113.45,127.34 115.80,126.02 118.15,127.34 117.63,124.69 119.60,122.86 116.93,122.55" fill="#ffd21a"/>
<polygon points="118.80,122.30 117.67,124.75 115.00,125.06 116.97,126.89 116.45,129.54 118.80,128.22 121.15,129.54 120.63,126.89 122.60,125.06 119.93,124.75" fill="#ffd21a"/>
<polygon points="199.30,115.70 198.17,118.15 195.50,118.46 197.47,120.29 196.95,122.94 199.30,121.62 201.65,122.94 201.13,120.29 203.10,118.46 200.43,118.15" fill="#ffd21a"/>
<polygon points="192.00,123.00 190.87,125.45 188.20,125.76 190.17,127.59 189.65,130.24 192.00,128.92 194.35,130.24 193.83,127.59 195.80,125.76 193.13,125.45" fill="#ffd21a"/>
<polygon points="206.60,123.70 205.47,126.15 202.80,126.46 204.77,128.29 204.25,130.94 206.60,129.62 208.95,130.94 208.43,128.29 210.40,126.46 207.73,126.15" fill="#ffd21a"/>
<polygon points="188.50,136.60 187.37,139.05 184.70,139.36 186.67,141.19 186.15,143.84 188.50,142.52 190.85,143.84 190.33,141.19 192.30,139.36 189.63,139.05" fill="#ffd21a"/>
<polygon points="136.00,137.20 134.87,139.65 132.20,139.96 134.17,141.79 133.65,144.44 136.00,143.12 138.35,144.44 137.83,141.79 139.80,139.96 137.13,139.65" fill="#ffd21a"/>
<polygon points="137.70,141.20 136.57,143.65 133.90,143.96 135.87,145.79 135.35,148.44 137.70,147.12 140.05,148.44 139.53,145.79 141.50,143.96 138.83,143.65" fill="#ffd21a"/>
<polygon points="129.70,150.70 128.57,153.15 125.90,153.46 127.87,155.29 127.35,157.94 129.70,156.62 132.05,157.94 131.53,155.29 133.50,153.46 130.83,153.15" fill="#ffd21a"/>
<polygon points="136.30,161.70 135.17,164.15 132.50,164.46 134.47,166.29 133.95,168.94 136.30,167.62 138.65,168.94 138.13,166.29 140.10,164.46 137.43,164.15" fill="#ffd21a"/>
<polygon points="165.50,158.00 164.37,160.45 161.70,160.76 163.67,162.59 163.15,165.24 165.50,163.92 167.85,165.24 167.33,162.59 169.30,160.76 166.63,160.45" fill="#ffd21a"/>
<polygon points="175.00,160.20 173.87,162.65 171.20,162.96 173.17,164.79 172.65,167.44 175.00,166.12 177.35,167.44 176.83,164.79 178.80,162.96 176.13,162.65" fill="#ffd21a"/>
<polygon points="183.00,152.20 181.87,154.65 179.20,154.96 181.17,156.79 180.65,159.44 183.00,158.12 185.35,159.44 184.83,156.79 186.80,154.96 184.13,154.65" fill="#ffd21a"/>
<polygon points="188.80,137.60 187.67,140.05 185.00,140.36 186.97,142.19 186.45,144.84 188.80,143.52 191.15,144.84 190.63,142.19 192.60,140.36 189.93,140.05" fill="#ffd21a"/>
<polygon points="190.00,148.80 188.87,151.25 186.20,151.56 188.17,153.39 187.65,156.04 190.00,154.72 192.35,156.04 191.83,153.39 193.80,151.56 191.13,151.25" fill="#ffd21a"/>
<polygon points="192.50,168.20 191.37,170.65 188.70,170.96 190.67,172.79 190.15,175.44 192.50,174.12 194.85,175.44 194.33,172.79 196.30,170.96 193.63,170.65" fill="#ffd21a"/>
<polygon points="144.30,169.00 143.17,171.45 140.50,171.76 142.47,173.59 141.95,176.24 144.30,174.92 146.65,176.24 146.13,173.59 148.10,171.76 145.43,171.45" fill="#ffd21a"/>
<polygon points="203.40,155.80 202.27,158.25 199.60,158.56 201.57,160.39 201.05,163.04 203.40,161.72 205.75,163.04 205.23,160.39 207.20,158.56 204.53,158.25" fill="#ffd21a"/>
<polygon points="138.10,167.70 136.97,170.15 134.30,170.46 136.27,172.29 135.75,174.94 138.10,173.62 140.45,174.94 139.93,172.29 141.90,170.46 139.23,170.15" fill="#ffd21a"/>
<polygon points="144.00,168.90 142.87,171.35 140.20,171.66 142.17,173.49 141.65,176.14 144.00,174.82 146.35,176.14 145.83,173.49 147.80,171.66 145.13,171.35" fill="#ffd21a"/>
<polygon points="133.50,175.30 132.37,177.75 129.70,178.06 131.67,179.89 131.15,182.54 133.50,181.22 135.85,182.54 135.33,179.89 137.30,178.06 134.63,177.75" fill="#ffd21a"/>
<polygon points="161.50,180.00 160.37,182.45 157.70,182.76 159.67,184.59 159.15,187.24 161.50,185.92 163.85,187.24 163.33,184.59 165.30,182.76 162.63,182.45" fill="#ffd21a"/>
<polygon points="164.40,181.10 163.27,183.55 160.60,183.86 162.57,185.69 162.05,188.34 164.40,187.02 166.75,188.34 166.23,185.69 168.20,183.86 165.53,183.55" fill="#ffd21a"/>
<polygon points="152.70,183.50 151.57,185.95 148.90,186.26 150.87,188.09 150.35,190.74 152.70,189.42 155.05,190.74 154.53,188.09 156.50,186.26 153.83,185.95" fill="#ffd21a"/>
<polygon points="166.20,158.30 165.07,160.75 162.40,161.06 164.37,162.89 163.85,165.54 166.20,164.22 168.55,165.54 168.03,162.89 170.00,161.06 167.33,160.75" fill="#ffd21a"/>
<polygon points="173.20,181.10 172.07,183.55 169.40,183.86 171.37,185.69 170.85,188.34 173.20,187.02 175.55,188.34 175.03,185.69 177.00,183.86 174.33,183.55" fill="#ffd21a"/>
<polygon points="183.20,178.20 182.07,180.65 179.40,180.96 181.37,182.79 180.85,185.44 183.20,184.12 185.55,185.44 185.03,182.79 187.00,180.96 184.33,180.65" fill="#ffd21a"/>
<polygon points="142.20,181.70 141.07,184.15 138.40,184.46 140.37,186.29 139.85,188.94 142.20,187.62 144.55,188.94 144.03,186.29 146.00,184.46 143.33,184.15" fill="#ffd21a"/>
<polygon points="200.70,115.70 199.57,118.15 196.90,118.46 198.87,120.29 198.35,122.94 200.70,121.62 203.05,122.94 202.53,120.29 204.50,118.46 201.83,118.15" fill="#ffd21a"/>
<polygon points="221.90,115.00 220.77,117.45 218.10,117.76 220.07,119.59 219.55,122.24 221.90,120.92 224.25,122.24 223.73,119.59 225.70,117.76 223.03,117.45" fill="#ffd21a"/>
<polygon points="227.40,120.10 226.27,122.55 223.60,122.86 225.57,124.69 225.05,127.34 227.40,126.02 229.75,127.34 229.23,124.69 231.20,122.86 228.53,122.55" fill="#ffd21a"/>
<polygon points="214.60,134.20 213.47,136.65 210.80,136.96 212.77,138.79 212.25,141.44 214.60,140.12 216.95,141.44 216.43,138.79 218.40,136.96 215.73,136.65" fill="#ffd21a"/>
<polygon points="285.40,136.60 284.27,139.05 281.60,139.36 283.57,141.19 283.05,143.84 285.40,142.52 287.75,143.84 287.23,141.19 289.20,139.36 286.53,139.05" fill="#ffd21a"/>
<polygon points="299.30,127.40 298.17,129.85 295.50,130.16 297.47,131.99 296.95,134.64 299.30,133.32 301.65,134.64 301.13,131.99 303.10,130.16 300.43,129.85" fill="#ffd21a"/>
<polygon points="305.80,105.50 304.67,107.95 302.00,108.26 303.97,110.09 303.45,112.74 305.80,111.42 308.15,112.74 307.63,110.09 309.60,108.26 306.93,107.95" fill="#ffd21a"/>
<polygon points="300.20,127.10 299.07,129.55 296.40,129.86 298.37,131.69 297.85,134.34 300.20,133.02 302.55,134.34 302.03,131.69 304.00,129.86 301.33,129.55" fill="#ffd21a"/>
<polygon points="310.20,129.00 309.07,131.45 306.40,131.76 308.37,133.59 307.85,136.24 310.20,134.92 312.55,136.24 312.03,133.59 314.00,131.76 311.33,131.45" fill="#ffd21a"/>
<polygon points="313.90,130.20 312.77,132.65 310.10,132.96 312.07,134.79 311.55,137.44 313.90,136.12 316.25,137.44 315.73,134.79 317.70,132.96 315.03,132.65" fill="#ffd21a"/>
<polygon points="284.70,138.00 283.57,140.45 280.90,140.76 282.87,142.59 282.35,145.24 284.70,143.92 287.05,145.24 286.53,142.59 288.50,140.76 285.83,140.45" fill="#ffd21a"/>
<polygon points="214.90,134.10 213.77,136.55 211.10,136.86 213.07,138.69 212.55,141.34 214.90,140.02 217.25,141.34 216.73,138.69 218.70,136.86 216.03,136.55" fill="#ffd21a"/>
<polygon points="216.70,142.80 215.57,145.25 212.90,145.56 214.87,147.39 214.35,150.04 216.70,148.72 219.05,150.04 218.53,147.39 220.50,145.56 217.83,145.25" fill="#ffd21a"/>
<polygon points="210.50,149.60 209.37,152.05 206.70,152.36 208.67,154.19 208.15,156.84 210.50,155.52 212.85,156.84 212.33,154.19 214.30,152.36 211.63,152.05" fill="#ffd21a"/>
<polygon points="228.50,150.90 227.37,153.35 224.70,153.66 226.67,155.49 226.15,158.14 228.50,156.82 230.85,158.14 230.33,155.49 232.30,153.66 229.63,153.35" fill="#ffd21a"/>
<polygon points="232.20,156.40 231.07,158.85 228.40,159.16 230.37,160.99 229.85,163.64 232.20,162.32 234.55,163.64 234.03,160.99 236.00,159.16 233.33,158.85" fill="#ffd21a"/>
<polygon points="226.00,157.70 224.87,160.15 222.20,160.46 224.17,162.29 223.65,164.94 226.00,163.62 228.35,164.94 227.83,162.29 229.80,160.46 227.13,160.15" fill="#ffd21a"/>
<polygon points="202.40,155.20 201.27,157.65 198.60,157.96 200.57,159.79 200.05,162.44 202.40,161.12 204.75,162.44 204.23,159.79 206.20,157.96 203.53,157.65" fill="#ffd21a"/>
<polygon points="244.00,160.20 242.87,162.65 240.20,162.96 242.17,164.79 241.65,167.44 244.00,166.12 246.35,167.44 245.83,164.79 247.80,162.96 245.13,162.65" fill="#ffd21a"/>
<polygon points="252.10,162.60 250.97,165.05 248.30,165.36 250.27,167.19 249.75,169.84 252.10,168.52 254.45,169.84 253.93,167.19 255.90,165.36 253.23,165.05" fill="#ffd21a"/>
<polygon points="273.80,143.60 272.67,146.05 270.00,146.36 271.97,148.19 271.45,150.84 273.80,149.52 276.15,150.84 275.63,148.19 277.60,146.36 274.93,146.05" fill="#ffd21a"/>
<polygon points="245.90,163.90 244.77,166.35 242.10,166.66 244.07,168.49 243.55,171.14 245.90,169.82 248.25,171.14 247.73,168.49 249.70,166.66 247.03,166.35" fill="#ffd21a"/>
<polygon points="285.30,137.90 284.17,140.35 281.50,140.66 283.47,142.49 282.95,145.14 285.30,143.82 287.65,145.14 287.13,142.49 289.10,140.66 286.43,140.35" fill="#ffd21a"/>
<polygon points="292.50,142.80 291.37,145.25 288.70,145.56 290.67,147.39 290.15,150.04 292.50,148.72 294.85,150.04 294.33,147.39 296.30,145.56 293.63,145.25" fill="#ffd21a"/>
<polygon points="299.10,152.20 297.97,154.65 295.30,154.96 297.27,156.79 296.75,159.44 299.10,158.12 301.45,159.44 300.93,156.79 302.90,154.96 300.23,154.65" fill="#ffd21a"/>
<polygon points="302.90,143.90 301.77,146.35 299.10,146.66 301.07,148.49 300.55,151.14 302.90,149.82 305.25,151.14 304.73,148.49 306.70,146.66 304.03,146.35" fill="#ffd21a"/>
<polygon points="309.50,139.50 308.37,141.95 305.70,142.26 307.67,144.09 307.15,146.74 309.50,145.42 311.85,146.74 311.33,144.09 313.30,142.26 310.63,141.95" fill="#ffd21a"/>
<polygon points="261.10,176.40 259.97,178.85 257.30,179.16 259.27,180.99 258.75,183.64 261.10,182.32 263.45,183.64 262.93,180.99 264.90,179.16 262.23,178.85" fill="#ffd21a"/>
<polygon points="265.50,178.60 264.37,181.05 261.70,181.36 263.67,183.19 263.15,185.84 265.50,184.52 267.85,185.84 267.33,183.19 269.30,181.36 266.63,181.05" fill="#ffd21a"/>
<polygon points="278.70,168.70 277.57,171.15 274.90,171.46 276.87,173.29 276.35,175.94 278.70,174.62 281.05,175.94 280.53,173.29 282.50,171.46 279.83,171.15" fill="#ffd21a"/>
<polygon points="290.80,173.10 289.67,175.55 287.00,175.86 288.97,177.69 288.45,180.34 290.80,179.02 293.15,180.34 292.63,177.69 294.60,175.86 291.93,175.55" fill="#ffd21a"/>
<polygon points="295.20,176.40 294.07,178.85 291.40,179.16 293.37,180.99 292.85,183.64 295.20,182.32 297.55,183.64 297.03,180.99 299.00,179.16 296.33,178.85" fill="#ffd21a"/>
<polygon points="282.00,185.20 280.87,187.65 278.20,187.96 280.17,189.79 279.65,192.44 282.00,191.12 284.35,192.44 283.83,189.79 285.80,187.96 283.13,187.65" fill="#ffd21a"/>
<polygon points="277.60,180.80 276.47,183.25 273.80,183.56 275.77,185.39 275.25,188.04 277.60,186.72 279.95,188.04 279.43,185.39 281.40,183.56 278.73,183.25" fill="#ffd21a"/>
<polygon points="306.20,162.10 305.07,164.55 302.40,164.86 304.37,166.69 303.85,169.34 306.20,168.02 308.55,169.34 308.03,166.69 310.00,164.86 307.33,164.55" fill="#ffd21a"/>
<polygon points="316.30,181.50 315.17,183.95 312.50,184.26 314.47,186.09 313.95,188.74 316.30,187.42 318.65,188.74 318.13,186.09 320.10,184.26 317.43,183.95" fill="#ffd21a"/>
<polygon points="274.30,192.50 273.17,194.95 270.50,195.26 272.47,197.09 271.95,199.74 274.30,198.42 276.65,199.74 276.13,197.09 278.10,195.26 275.43,194.95" fill="#ffd21a"/>
<polygon points="192.20,167.60 191.07,170.05 188.40,170.36 190.37,172.19 189.85,174.84 192.20,173.52 194.55,174.84 194.03,172.19 196.00,170.36 193.33,170.05" fill="#ffd21a"/>
<polygon points="202.10,176.40 200.97,178.85 198.30,179.16 200.27,180.99 199.75,183.64 202.10,182.32 204.45,183.64 203.93,180.99 205.90,179.16 203.23,178.85" fill="#ffd21a"/>
<polygon points="230.70,174.20 229.57,176.65 226.90,176.96 228.87,178.79 228.35,181.44 230.70,180.12 233.05,181.44 232.53,178.79 234.50,176.96 231.83,176.65" fill="#ffd21a"/>
<polygon points="235.10,175.30 233.97,177.75 231.30,178.06 233.27,179.89 232.75,182.54 235.10,181.22 237.45,182.54 236.93,179.89 238.90,178.06 236.23,177.75" fill="#ffd21a"/>
<polygon points="243.90,176.40 242.77,178.85 240.10,179.16 242.07,180.99 241.55,183.64 243.90,182.32 246.25,183.64 245.73,180.99 247.70,179.16 245.03,178.85" fill="#ffd21a"/>
<polygon points="249.40,178.60 248.27,181.05 245.60,181.36 247.57,183.19 247.05,185.84 249.40,184.52 251.75,185.84 251.23,183.19 253.20,181.36 250.53,181.05" fill="#ffd21a"/>
<polygon points="238.40,186.30 237.27,188.75 234.60,189.06 236.57,190.89 236.05,193.54 238.40,192.22 240.75,193.54 240.23,190.89 242.20,189.06 239.53,188.75" fill="#ffd21a"/>
<polygon points="243.90,163.20 242.77,165.65 240.10,165.96 242.07,167.79 241.55,170.44 243.90,169.12 246.25,170.44 245.73,167.79 247.70,165.96 245.03,165.65" fill="#ffd21a"/>
<polygon points="251.60,163.20 250.47,165.65 247.80,165.96 249.77,167.79 249.25,170.44 251.60,169.12 253.95,170.44 253.43,167.79 255.40,165.96 252.73,165.65" fill="#ffd21a"/>
<polygon points="258.20,177.50 257.07,179.95 254.40,180.26 256.37,182.09 255.85,184.74 258.20,183.42 260.55,184.74 260.03,182.09 262.00,180.26 259.33,179.95" fill="#ffd21a"/>
<polygon points="262.60,178.60 261.47,181.05 258.80,181.36 260.77,183.19 260.25,185.84 262.60,184.52 264.95,185.84 264.43,183.19 266.40,181.36 263.73,181.05" fill="#ffd21a"/>
<polygon points="240.60,197.30 239.47,199.75 236.80,200.06 238.77,201.89 238.25,204.54 240.60,203.22 242.95,204.54 242.43,201.89 244.40,200.06 241.73,199.75" fill="#ffd21a"/>
<polygon points="247.20,197.30 246.07,199.75 243.40,200.06 245.37,201.89 244.85,204.54 247.20,203.22 249.55,204.54 249.03,201.89 251.00,200.06 248.33,199.75" fill="#ffd21a"/>
<polygon points="142.60,182.60 141.47,185.05 138.80,185.36 140.77,187.19 140.25,189.84 142.60,188.52 144.95,189.84 144.43,187.19 146.40,185.36 143.73,185.05" fill="#ffd21a"/>
<polygon points="150.30,183.70 149.17,186.15 146.50,186.46 148.47,188.29 147.95,190.94 150.30,189.62 152.65,190.94 152.13,188.29 154.10,186.46 151.43,186.15" fill="#ffd21a"/>
<polygon points="154.70,184.30 153.57,186.75 150.90,187.06 152.87,188.89 152.35,191.54 154.70,190.22 157.05,191.54 156.53,188.89 158.50,187.06 155.83,186.75" fill="#ffd21a"/>
<polygon points="162.40,180.40 161.27,182.85 158.60,183.16 160.57,184.99 160.05,187.64 162.40,186.32 164.75,187.64 164.23,184.99 166.20,183.16 163.53,182.85" fill="#ffd21a"/>
<polygon points="172.30,181.50 171.17,183.95 168.50,184.26 170.47,186.09 169.95,188.74 172.30,187.42 174.65,188.74 174.13,186.09 176.10,184.26 173.43,183.95" fill="#ffd21a"/>
<polygon points="175.60,188.10 174.47,190.55 171.80,190.86 173.77,192.69 173.25,195.34 175.60,194.02 177.95,195.34 177.43,192.69 179.40,190.86 176.73,190.55" fill="#ffd21a"/>
<polygon points="182.20,179.30 181.07,181.75 178.40,182.06 180.37,183.89 179.85,186.54 182.20,185.22 184.55,186.54 184.03,183.89 186.00,182.06 183.33,181.75" fill="#ffd21a"/>
<polygon points="186.60,182.60 185.47,185.05 182.80,185.36 184.77,187.19 184.25,189.84 186.60,188.52 188.95,189.84 188.43,187.19 190.40,185.36 187.73,185.05" fill="#ffd21a"/>
<polygon points="160.20,202.40 159.07,204.85 156.40,205.16 158.37,206.99 157.85,209.64 160.20,208.32 162.55,209.64 162.03,206.99 164.00,205.16 161.33,204.85" fill="#ffd21a"/>
<polygon points="154.70,195.80 153.57,198.25 150.90,198.56 152.87,200.39 152.35,203.04 154.70,201.72 157.05,203.04 156.53,200.39 158.50,198.56 155.83,198.25" fill="#ffd21a"/>
<polygon points="182.20,199.10 181.07,201.55 178.40,201.86 180.37,203.69 179.85,206.34 182.20,205.02 184.55,206.34 184.03,203.69 186.00,201.86 183.33,201.55" fill="#ffd21a"/>
<polygon points="133.80,176.60 132.67,179.05 130.00,179.36 131.97,181.19 131.45,183.84 133.80,182.52 136.15,183.84 135.63,181.19 137.60,179.36 134.93,179.05" fill="#ffd21a"/>
<polygon points="161.40,203.10 160.27,205.55 157.60,205.86 159.57,207.69 159.05,210.34 161.40,209.02 163.75,210.34 163.23,207.69 165.20,205.86 162.53,205.55" fill="#ffd21a"/>
<polygon points="268.00,174.00 266.87,176.45 264.20,176.76 266.17,178.59 265.65,181.24 268.00,179.92 270.35,181.24 269.83,178.59 271.80,176.76 269.13,176.45" fill="#ffd21a"/>
<polygon points="272.00,179.00 270.87,181.45 268.20,181.76 270.17,183.59 269.65,186.24 272.00,184.92 274.35,186.24 273.83,183.59 275.80,181.76 273.13,181.45" fill="#ffd21a"/>
<polygon points="256.00,180.00 254.87,182.45 252.20,182.76 254.17,184.59 253.65,187.24 256.00,185.92 258.35,187.24 257.83,184.59 259.80,182.76 257.13,182.45" fill="#ffd21a"/>
<polygon points="286.00,176.00 284.87,178.45 282.20,178.76 284.17,180.59 283.65,183.24 286.00,181.92 288.35,183.24 287.83,180.59 289.80,178.76 287.13,178.45" fill="#ffd21a"/>
<polygon points="270.00,183.00 268.87,185.45 266.20,185.76 268.17,187.59 267.65,190.24 270.00,188.92 272.35,190.24 271.83,187.59 273.80,185.76 271.13,185.45" fill="#ffd21a"/>
<polygon points="216.30,142.20 215.17,144.65 212.50,144.96 214.47,146.79 213.95,149.44 216.30,148.12 218.65,149.44 218.13,146.79 220.10,144.96 217.43,144.65" fill="#ffd21a"/>
<polygon points="227.80,150.20 226.67,152.65 224.00,152.96 225.97,154.79 225.45,157.44 227.80,156.12 230.15,157.44 229.63,154.79 231.60,152.96 228.93,152.65" fill="#ffd21a"/>
<polygon points="231.30,156.40 230.17,158.85 227.50,159.16 229.47,160.99 228.95,163.64 231.30,162.32 233.65,163.64 233.13,160.99 235.10,159.16 232.43,158.85" fill="#ffd21a"/>
<polygon points="225.10,158.20 223.97,160.65 221.30,160.96 223.27,162.79 222.75,165.44 225.10,164.12 227.45,165.44 226.93,162.79 228.90,160.96 226.23,160.65" fill="#ffd21a"/>
<polygon points="211.00,149.30 209.87,151.75 207.20,152.06 209.17,153.89 208.65,156.54 211.00,155.22 213.35,156.54 212.83,153.89 214.80,152.06 212.13,151.75" fill="#ffd21a"/>
<polygon points="203.00,155.50 201.87,157.95 199.20,158.26 201.17,160.09 200.65,162.74 203.00,161.42 205.35,162.74 204.83,160.09 206.80,158.26 204.13,157.95" fill="#ffd21a"/>
<polygon points="243.80,160.80 242.67,163.25 240.00,163.56 241.97,165.39 241.45,168.04 243.80,166.72 246.15,168.04 245.63,165.39 247.60,163.56 244.93,163.25" fill="#ffd21a"/>
<polygon points="250.90,162.60 249.77,165.05 247.10,165.36 249.07,167.19 248.55,169.84 250.90,168.52 253.25,169.84 252.73,167.19 254.70,165.36 252.03,165.05" fill="#ffd21a"/>
<polygon points="229.60,173.20 228.47,175.65 225.80,175.96 227.77,177.79 227.25,180.44 229.60,179.12 231.95,180.44 231.43,177.79 233.40,175.96 230.73,175.65" fill="#ffd21a"/>
<polygon points="242.90,176.80 241.77,179.25 239.10,179.56 241.07,181.39 240.55,184.04 242.90,182.72 245.25,184.04 244.73,181.39 246.70,179.56 244.03,179.25" fill="#ffd21a"/>
<polygon points="248.20,178.60 247.07,181.05 244.40,181.36 246.37,183.19 245.85,185.84 248.20,184.52 250.55,185.84 250.03,183.19 252.00,181.36 249.33,181.05" fill="#ffd21a"/>
<polygon points="253.50,177.70 252.37,180.15 249.70,180.46 251.67,182.29 251.15,184.94 253.50,183.62 255.85,184.94 255.33,182.29 257.30,180.46 254.63,180.15" fill="#ffd21a"/>
<polygon points="258.80,176.80 257.67,179.25 255.00,179.56 256.97,181.39 256.45,184.04 258.80,182.72 261.15,184.04 260.63,181.39 262.60,179.56 259.93,179.25" fill="#ffd21a"/>
<polygon points="264.10,174.10 262.97,176.55 260.30,176.86 262.27,178.69 261.75,181.34 264.10,180.02 266.45,181.34 265.93,178.69 267.90,176.86 265.23,176.55" fill="#ffd21a"/>
<polygon points="267.70,169.70 266.57,172.15 263.90,172.46 265.87,174.29 265.35,176.94 267.70,175.62 270.05,176.94 269.53,174.29 271.50,172.46 268.83,172.15" fill="#ffd21a"/>
<polygon points="202.10,175.90 200.97,178.35 198.30,178.66 200.27,180.49 199.75,183.14 202.10,181.82 204.45,183.14 203.93,180.49 205.90,178.66 203.23,178.35" fill="#ffd21a"/>
<polygon points="273.00,143.10 271.87,145.55 269.20,145.86 271.17,147.69 270.65,150.34 273.00,149.02 275.35,150.34 274.83,147.69 276.80,145.86 274.13,145.55" fill="#ffd21a"/>
<polygon points="256.20,179.40 255.07,181.85 252.40,182.16 254.37,183.99 253.85,186.64 256.20,185.32 258.55,186.64 258.03,183.99 260.00,182.16 257.33,181.85" fill="#ffd21a"/>
<polygon points="133.90,175.20 132.77,177.65 130.10,177.96 132.07,179.79 131.55,182.44 133.90,181.12 136.25,182.44 135.73,179.79 137.70,177.96 135.03,177.65" fill="#ffd21a"/>
<polygon points="143.60,168.10 142.47,170.55 139.80,170.86 141.77,172.69 141.25,175.34 143.60,174.02 145.95,175.34 145.43,172.69 147.40,170.86 144.73,170.55" fill="#ffd21a"/>
<polygon points="142.70,182.30 141.57,184.75 138.90,185.06 140.87,186.89 140.35,189.54 142.70,188.22 145.05,189.54 144.53,186.89 146.50,185.06 143.83,184.75" fill="#ffd21a"/>
<polygon points="153.40,184.00 152.27,186.45 149.60,186.76 151.57,188.59 151.05,191.24 153.40,189.92 155.75,191.24 155.23,188.59 157.20,186.76 154.53,186.45" fill="#ffd21a"/>
<polygon points="162.20,179.60 161.07,182.05 158.40,182.36 160.37,184.19 159.85,186.84 162.20,185.52 164.55,186.84 164.03,184.19 166.00,182.36 163.33,182.05" fill="#ffd21a"/>
<polygon points="173.80,181.40 172.67,183.85 170.00,184.16 171.97,185.99 171.45,188.64 173.80,187.32 176.15,188.64 175.63,185.99 177.60,184.16 174.93,183.85" fill="#ffd21a"/>
<polygon points="176.40,188.50 175.27,190.95 172.60,191.26 174.57,193.09 174.05,195.74 176.40,194.42 178.75,195.74 178.23,193.09 180.20,191.26 177.53,190.95" fill="#ffd21a"/>
<polygon points="161.30,202.70 160.17,205.15 157.50,205.46 159.47,207.29 158.95,209.94 161.30,208.62 163.65,209.94 163.13,207.29 165.10,205.46 162.43,205.15" fill="#ffd21a"/>
<polygon points="192.40,168.10 191.27,170.55 188.60,170.86 190.57,172.69 190.05,175.34 192.40,174.02 194.75,175.34 194.23,172.69 196.20,170.86 193.53,170.55" fill="#ffd21a"/>
<polygon points="201.20,177.00 200.07,179.45 197.40,179.76 199.37,181.59 198.85,184.24 201.20,182.92 203.55,184.24 203.03,181.59 205.00,179.76 202.33,179.45" fill="#ffd21a"/>
<polygon points="188.80,196.50 187.67,198.95 185.00,199.26 186.97,201.09 186.45,203.74 188.80,202.42 191.15,203.74 190.63,201.09 192.60,199.26 189.93,198.95" fill="#ffd21a"/>
<polygon points="183.50,182.30 182.37,184.75 179.70,185.06 181.67,186.89 181.15,189.54 183.50,188.22 185.85,189.54 185.33,186.89 187.30,185.06 184.63,184.75" fill="#ffd21a"/>
<polygon points="236.00,178.00 234.87,180.45 232.20,180.76 234.17,182.59 233.65,185.24 236.00,183.92 238.35,185.24 237.83,182.59 239.80,180.76 237.13,180.45" fill="#ffd21a"/>
<polygon points="242.90,176.80 241.77,179.25 239.10,179.56 241.07,181.39 240.55,184.04 242.90,182.72 245.25,184.04 244.73,181.39 246.70,179.56 244.03,179.25" fill="#ffd21a"/>
<polygon points="248.20,178.60 247.07,181.05 244.40,181.36 246.37,183.19 245.85,185.84 248.20,184.52 250.55,185.84 250.03,183.19 252.00,181.36 249.33,181.05" fill="#ffd21a"/>
<polygon points="253.50,177.70 252.37,180.15 249.70,180.46 251.67,182.29 251.15,184.94 253.50,183.62 255.85,184.94 255.33,182.29 257.30,180.46 254.63,180.15" fill="#ffd21a"/>
<polygon points="258.80,177.70 257.67,180.15 255.00,180.46 256.97,182.29 256.45,184.94 258.80,183.62 261.15,184.94 260.63,182.29 262.60,180.46 259.93,180.15" fill="#ffd21a"/>
<polygon points="264.10,174.10 262.97,176.55 260.30,176.86 262.27,178.69 261.75,181.34 264.10,180.02 266.45,181.34 265.93,178.69 267.90,176.86 265.23,176.55" fill="#ffd21a"/>
<polygon points="267.70,169.70 266.57,172.15 263.90,172.46 265.87,174.29 265.35,176.94 267.70,175.62 270.05,176.94 269.53,174.29 271.50,172.46 268.83,172.15" fill="#ffd21a"/>
<polygon points="256.20,181.20 255.07,183.65 252.40,183.96 254.37,185.79 253.85,188.44 256.20,187.12 258.55,188.44 258.03,185.79 260.00,183.96 257.33,183.65" fill="#ffd21a"/>
<polygon points="270.00,177.00 268.87,179.45 266.20,179.76 268.17,181.59 267.65,184.24 270.00,182.92 272.35,184.24 271.83,181.59 273.80,179.76 271.13,179.45" fill="#ffd21a"/>
<polygon points="277.90,167.70 276.77,170.15 274.10,170.46 276.07,172.29 275.55,174.94 277.90,173.62 280.25,174.94 279.73,172.29 281.70,170.46 279.03,170.15" fill="#ffd21a"/>
<polygon points="283.70,175.50 282.57,177.95 279.90,178.26 281.87,180.09 281.35,182.74 283.70,181.42 286.05,182.74 285.53,180.09 287.50,178.26 284.83,177.95" fill="#ffd21a"/>
<polygon points="291.50,171.60 290.37,174.05 287.70,174.36 289.67,176.19 289.15,178.84 291.50,177.52 293.85,178.84 293.33,176.19 295.30,174.36 292.63,174.05" fill="#ffd21a"/>
<polygon points="295.40,177.40 294.27,179.85 291.60,180.16 293.57,181.99 293.05,184.64 295.40,183.32 297.75,184.64 297.23,181.99 299.20,180.16 296.53,179.85" fill="#ffd21a"/>
<polygon points="299.30,177.40 298.17,179.85 295.50,180.16 297.47,181.99 296.95,184.64 299.30,183.32 301.65,184.64 301.13,181.99 303.10,180.16 300.43,179.85" fill="#ffd21a"/>
<polygon points="283.70,181.30 282.57,183.75 279.90,184.06 281.87,185.89 281.35,188.54 283.70,187.22 286.05,188.54 285.53,185.89 287.50,184.06 284.83,183.75" fill="#ffd21a"/>
<polygon points="274.00,191.10 272.87,193.55 270.20,193.86 272.17,195.69 271.65,198.34 274.00,197.02 276.35,198.34 275.83,195.69 277.80,193.86 275.13,193.55" fill="#ffd21a"/>
<polygon points="262.30,195.00 261.17,197.45 258.50,197.76 260.47,199.59 259.95,202.24 262.30,200.92 264.65,202.24 264.13,199.59 266.10,197.76 263.43,197.45" fill="#ffd21a"/>
<polygon points="243.80,160.80 242.67,163.25 240.00,163.56 241.97,165.39 241.45,168.04 243.80,166.72 246.15,168.04 245.63,165.39 247.60,163.56 244.93,163.25" fill="#ffd21a"/>
<polygon points="251.70,162.60 250.57,165.05 247.90,165.36 249.87,167.19 249.35,169.84 251.70,168.52 254.05,169.84 253.53,167.19 255.50,165.36 252.83,165.05" fill="#ffd21a"/>
<polygon points="240.80,196.90 239.67,199.35 237.00,199.66 238.97,201.49 238.45,204.14 240.80,202.82 243.15,204.14 242.63,201.49 244.60,199.66 241.93,199.35" fill="#ffd21a"/>
<polygon points="288.00,168.00 286.87,170.45 284.20,170.76 286.17,172.59 285.65,175.24 288.00,173.92 290.35,175.24 289.83,172.59 291.80,170.76 289.13,170.45" fill="#ffd21a"/>
<polygon points="276.00,179.00 274.87,181.45 272.20,181.76 274.17,183.59 273.65,186.24 276.00,184.92 278.35,186.24 277.83,183.59 279.80,181.76 277.13,181.45" fill="#ffd21a"/>
<polygon points="268.00,181.00 266.87,183.45 264.20,183.76 266.17,185.59 265.65,188.24 268.00,186.92 270.35,188.24 269.83,185.59 271.80,183.76 269.13,183.45" fill="#ffd21a"/>
<polygon points="292.00,181.00 290.87,183.45 288.20,183.76 290.17,185.59 289.65,188.24 292.00,186.92 294.35,188.24 293.83,185.59 295.80,183.76 293.13,183.45" fill="#ffd21a"/>
<polygon points="133.10,175.00 131.97,177.45 129.30,177.76 131.27,179.59 130.75,182.24 133.10,180.92 135.45,182.24 134.93,179.59 136.90,177.76 134.23,177.45" fill="#ffd21a"/>
<polygon points="161.90,179.70 160.77,182.15 158.10,182.46 160.07,184.29 159.55,186.94 161.90,185.62 164.25,186.94 163.73,184.29 165.70,182.46 163.03,182.15" fill="#ffd21a"/>
<polygon points="151.80,183.60 150.67,186.05 148.00,186.36 149.97,188.19 149.45,190.84 151.80,189.52 154.15,190.84 153.63,188.19 155.60,186.36 152.93,186.05" fill="#ffd21a"/>
<polygon points="148.70,183.60 147.57,186.05 144.90,186.36 146.87,188.19 146.35,190.84 148.70,189.52 151.05,190.84 150.53,188.19 152.50,186.36 149.83,186.05" fill="#ffd21a"/>
<polygon points="172.80,182.00 171.67,184.45 169.00,184.76 170.97,186.59 170.45,189.24 172.80,187.92 175.15,189.24 174.63,186.59 176.60,184.76 173.93,184.45" fill="#ffd21a"/>
<polygon points="176.70,187.50 175.57,189.95 172.90,190.26 174.87,192.09 174.35,194.74 176.70,193.42 179.05,194.74 178.53,192.09 180.50,190.26 177.83,189.95" fill="#ffd21a"/>
<polygon points="161.20,203.00 160.07,205.45 157.40,205.76 159.37,207.59 158.85,210.24 161.20,208.92 163.55,210.24 163.03,207.59 165.00,205.76 162.33,205.45" fill="#ffd21a"/>
<polygon points="165.00,204.60 163.87,207.05 161.20,207.36 163.17,209.19 162.65,211.84 165.00,210.52 167.35,211.84 166.83,209.19 168.80,207.36 166.13,207.05" fill="#ffd21a"/>
<polygon points="155.70,196.80 154.57,199.25 151.90,199.56 153.87,201.39 153.35,204.04 155.70,202.72 158.05,204.04 157.53,201.39 159.50,199.56 156.83,199.25" fill="#ffd21a"/>
<polygon points="144.00,180.50 142.87,182.95 140.20,183.26 142.17,185.09 141.65,187.74 144.00,186.42 146.35,187.74 145.83,185.09 147.80,183.26 145.13,182.95" fill="#ffd21a"/>
<polygon points="134.70,168.80 133.57,171.25 130.90,171.56 132.87,173.39 132.35,176.04 134.70,174.72 137.05,176.04 136.53,173.39 138.50,171.56 135.83,171.25" fill="#ffd21a"/>
<polygon points="140.90,169.60 139.77,172.05 137.10,172.36 139.07,174.19 138.55,176.84 140.90,175.52 143.25,176.84 142.73,174.19 144.70,172.36 142.03,172.05" fill="#ffd21a"/>
<polygon points="181.40,202.30 180.27,204.75 177.60,205.06 179.57,206.89 179.05,209.54 181.40,208.22 183.75,209.54 183.23,206.89 185.20,205.06 182.53,204.75" fill="#ffd21a"/>
<polygon points="161.50,203.00 160.37,205.45 157.70,205.76 159.67,207.59 159.15,210.24 161.50,208.92 163.85,210.24 163.33,207.59 165.30,205.76 162.63,205.45" fill="#ffd21a"/>
<polygon points="154.50,195.60 153.37,198.05 150.70,198.36 152.67,200.19 152.15,202.84 154.50,201.52 156.85,202.84 156.33,200.19 158.30,198.36 155.63,198.05" fill="#ffd21a"/>
<circle cx="73.30" cy="56.10" r="3.55" fill="#3b3b3b"/>
<circle cx="117.90" cy="64.80" r="3.55" fill="#3b3b3b"/>
<circle cx="58.00" cy="82.20" r="3.55" fill="#3b3b3b"/>
<circle cx="94.10" cy="88.80" r="3.55" fill="#3b3b3b"/>
<circle cx="84.70" cy="93.60" r="3.55" fill="#3b3b3b"/>
<circle cx="111.00" cy="92.90" r="3.55" fill="#3b3b3b"/>
<circle cx="106.90" cy="101.20" r="3.55" fill="#3b3b3b"/>
<circle cx="101.50" cy="104.40" r="3.55" fill="#3b3b3b"/>
<circle cx="114.60" cy="108.00" r="3.55" fill="#3b3b3b"/>
<circle cx="120.80" cy="112.30" r="3.55" fill="#3b3b3b"/>
<circle cx="101.80" cy="105.70" r="3.55" fill="#3b3b3b"/>
<circle cx="123.70" cy="121.80" r="3.55" fill="#3b3b3b"/>
<circle cx="126.20" cy="133.90" r="3.55" fill="#3b3b3b"/>
<circle cx="128.50" cy="143.20" r="3.55" fill="#3b3b3b"/>
<circle cx="115.10" cy="108.00" r="3.55" fill="#3b3b3b"/>
<circle cx="208.50" cy="135.80" r="3.55" fill="#3b3b3b"/>
<circle cx="207.10" cy="140.10" r="3.55" fill="#3b3b3b"/>
<circle cx="126.00" cy="135.00" r="3.55" fill="#3b3b3b"/>
<circle cx="133.40" cy="144.50" r="3.55" fill="#3b3b3b"/>
<circle cx="140.70" cy="155.40" r="3.55" fill="#3b3b3b"/>
<circle cx="131.20" cy="158.40" r="3.55" fill="#3b3b3b"/>
<circle cx="131.90" cy="164.20" r="3.55" fill="#3b3b3b"/>
<circle cx="134.10" cy="170.00" r="3.55" fill="#3b3b3b"/>
<circle cx="148.00" cy="174.40" r="3.55" fill="#3b3b3b"/>
<circle cx="157.40" cy="160.00" r="3.55" fill="#3b3b3b"/>
<circle cx="179.30" cy="161.30" r="3.55" fill="#3b3b3b"/>
<circle cx="185.20" cy="164.20" r="3.55" fill="#3b3b3b"/>
<circle cx="194.70" cy="162.00" r="3.55" fill="#3b3b3b"/>
<circle cx="197.60" cy="155.40" r="3.55" fill="#3b3b3b"/>
<circle cx="207.10" cy="140.80" r="3.55" fill="#3b3b3b"/>
<circle cx="203.40" cy="162.70" r="3.55" fill="#3b3b3b"/>
<circle cx="197.60" cy="170.00" r="3.55" fill="#3b3b3b"/>
<circle cx="203.40" cy="168.60" r="3.55" fill="#3b3b3b"/>
<circle cx="185.90" cy="175.10" r="3.55" fill="#3b3b3b"/>
<circle cx="141.60" cy="177.50" r="3.55" fill="#3b3b3b"/>
<circle cx="153.30" cy="181.60" r="3.55" fill="#3b3b3b"/>
<circle cx="138.10" cy="185.10" r="3.55" fill="#3b3b3b"/>
<circle cx="138.70" cy="189.20" r="3.55" fill="#3b3b3b"/>
<circle cx="144.60" cy="190.40" r="3.55" fill="#3b3b3b"/>
<circle cx="159.80" cy="189.20" r="3.55" fill="#3b3b3b"/>
<circle cx="179.60" cy="161.80" r="3.55" fill="#3b3b3b"/>
<circle cx="186.10" cy="176.40" r="3.55" fill="#3b3b3b"/>
<circle cx="190.20" cy="181.00" r="3.55" fill="#3b3b3b"/>
<circle cx="196.00" cy="178.70" r="3.55" fill="#3b3b3b"/>
<circle cx="178.50" cy="186.90" r="3.55" fill="#3b3b3b"/>
<circle cx="185.50" cy="188.10" r="3.55" fill="#3b3b3b"/>
<circle cx="192.50" cy="188.10" r="3.55" fill="#3b3b3b"/>
<circle cx="197.20" cy="183.40" r="3.55" fill="#3b3b3b"/>
<circle cx="165.60" cy="192.20" r="3.55" fill="#3b3b3b"/>
<circle cx="209.50" cy="135.00" r="3.55" fill="#3b3b3b"/>
<circle cx="218.20" cy="132.80" r="3.55" fill="#3b3b3b"/>
<circle cx="224.10" cy="133.60" r="3.55" fill="#3b3b3b"/>
<circle cx="206.60" cy="139.40" r="3.55" fill="#3b3b3b"/>
<circle cx="292.70" cy="136.50" r="3.55" fill="#3b3b3b"/>
<circle cx="315.80" cy="95.50" r="3.55" fill="#3b3b3b"/>
<circle cx="309.60" cy="138.50" r="3.55" fill="#3b3b3b"/>
<circle cx="312.70" cy="141.60" r="3.55" fill="#3b3b3b"/>
<circle cx="306.50" cy="144.10" r="3.55" fill="#3b3b3b"/>
<circle cx="221.70" cy="148.00" r="3.55" fill="#3b3b3b"/>
<circle cx="216.10" cy="152.40" r="3.55" fill="#3b3b3b"/>
<circle cx="222.90" cy="155.50" r="3.55" fill="#3b3b3b"/>
<circle cx="198.10" cy="155.50" r="3.55" fill="#3b3b3b"/>
<circle cx="237.20" cy="155.50" r="3.55" fill="#3b3b3b"/>
<circle cx="240.90" cy="154.90" r="3.55" fill="#3b3b3b"/>
<circle cx="239.00" cy="159.20" r="3.55" fill="#3b3b3b"/>
<circle cx="255.80" cy="151.70" r="3.55" fill="#3b3b3b"/>
<circle cx="265.10" cy="148.00" r="3.55" fill="#3b3b3b"/>
<circle cx="276.40" cy="155.80" r="3.55" fill="#3b3b3b"/>
<circle cx="223.50" cy="135.60" r="3.55" fill="#3b3b3b"/>
<circle cx="204.90" cy="161.70" r="3.55" fill="#3b3b3b"/>
<circle cx="211.10" cy="161.70" r="3.55" fill="#3b3b3b"/>
<circle cx="213.60" cy="158.60" r="3.55" fill="#3b3b3b"/>
<circle cx="196.20" cy="162.90" r="3.55" fill="#3b3b3b"/>
<circle cx="201.20" cy="167.30" r="3.55" fill="#3b3b3b"/>
<circle cx="208.60" cy="167.30" r="3.55" fill="#3b3b3b"/>
<circle cx="216.10" cy="166.00" r="3.55" fill="#3b3b3b"/>
<circle cx="223.50" cy="167.30" r="3.55" fill="#3b3b3b"/>
<circle cx="231.00" cy="168.50" r="3.55" fill="#3b3b3b"/>
<circle cx="219.80" cy="164.20" r="3.55" fill="#3b3b3b"/>
<circle cx="262.00" cy="169.70" r="3.55" fill="#3b3b3b"/>
<circle cx="293.00" cy="138.00" r="3.55" fill="#3b3b3b"/>
<circle cx="294.70" cy="152.90" r="3.55" fill="#3b3b3b"/>
<circle cx="301.80" cy="151.80" r="3.55" fill="#3b3b3b"/>
<circle cx="306.20" cy="144.60" r="3.55" fill="#3b3b3b"/>
<circle cx="308.40" cy="149.00" r="3.55" fill="#3b3b3b"/>
<circle cx="311.70" cy="141.30" r="3.55" fill="#3b3b3b"/>
<circle cx="313.90" cy="142.40" r="3.55" fill="#3b3b3b"/>
<circle cx="310.60" cy="146.80" r="3.55" fill="#3b3b3b"/>
<circle cx="301.80" cy="162.20" r="3.55" fill="#3b3b3b"/>
<circle cx="305.10" cy="162.80" r="3.55" fill="#3b3b3b"/>
<circle cx="297.40" cy="166.60" r="3.55" fill="#3b3b3b"/>
<circle cx="294.10" cy="168.30" r="3.55" fill="#3b3b3b"/>
<circle cx="316.30" cy="182.30" r="3.55" fill="#3b3b3b"/>
<circle cx="263.30" cy="171.00" r="3.55" fill="#3b3b3b"/>
<circle cx="271.00" cy="175.50" r="3.55" fill="#3b3b3b"/>
<circle cx="274.30" cy="173.30" r="3.55" fill="#3b3b3b"/>
<circle cx="282.00" cy="179.30" r="3.55" fill="#3b3b3b"/>
<circle cx="285.30" cy="175.50" r="3.55" fill="#3b3b3b"/>
<circle cx="287.50" cy="171.60" r="3.55" fill="#3b3b3b"/>
<circle cx="296.30" cy="169.40" r="3.55" fill="#3b3b3b"/>
<circle cx="300.70" cy="172.70" r="3.55" fill="#3b3b3b"/>
<circle cx="304.00" cy="168.30" r="3.55" fill="#3b3b3b"/>
<circle cx="286.40" cy="184.80" r="3.55" fill="#3b3b3b"/>
<circle cx="293.00" cy="187.00" r="3.55" fill="#3b3b3b"/>
<circle cx="297.40" cy="185.90" r="3.55" fill="#3b3b3b"/>
<circle cx="262.20" cy="189.20" r="3.55" fill="#3b3b3b"/>
<circle cx="267.70" cy="190.30" r="3.55" fill="#3b3b3b"/>
<circle cx="275.40" cy="190.30" r="3.55" fill="#3b3b3b"/>
<circle cx="289.70" cy="191.40" r="3.55" fill="#3b3b3b"/>
<circle cx="293.00" cy="193.60" r="3.55" fill="#3b3b3b"/>
<circle cx="258.50" cy="200.00" r="3.55" fill="#3b3b3b"/>
<circle cx="263.80" cy="200.00" r="3.55" fill="#3b3b3b"/>
<circle cx="272.50" cy="202.40" r="3.55" fill="#3b3b3b"/>
<circle cx="279.00" cy="194.20" r="3.55" fill="#3b3b3b"/>
<circle cx="289.50" cy="194.20" r="3.55" fill="#3b3b3b"/>
<circle cx="266.70" cy="194.20" r="3.55" fill="#3b3b3b"/>
<circle cx="258.50" cy="195.30" r="3.55" fill="#3b3b3b"/>
<circle cx="194.40" cy="165.00" r="3.55" fill="#3b3b3b"/>
<circle cx="199.90" cy="169.40" r="3.55" fill="#3b3b3b"/>
<circle cx="196.60" cy="176.00" r="3.55" fill="#3b3b3b"/>
<circle cx="193.30" cy="181.50" r="3.55" fill="#3b3b3b"/>
<circle cx="192.20" cy="189.20" r="3.55" fill="#3b3b3b"/>
<circle cx="204.30" cy="166.10" r="3.55" fill="#3b3b3b"/>
<circle cx="212.00" cy="177.10" r="3.55" fill="#3b3b3b"/>
<circle cx="215.30" cy="166.10" r="3.55" fill="#3b3b3b"/>
<circle cx="221.90" cy="167.20" r="3.55" fill="#3b3b3b"/>
<circle cx="228.50" cy="169.40" r="3.55" fill="#3b3b3b"/>
<circle cx="230.70" cy="172.70" r="3.55" fill="#3b3b3b"/>
<circle cx="233.50" cy="175.50" r="3.55" fill="#3b3b3b"/>
<circle cx="229.60" cy="183.20" r="3.55" fill="#3b3b3b"/>
<circle cx="234.00" cy="184.80" r="3.55" fill="#3b3b3b"/>
<circle cx="238.40" cy="183.70" r="3.55" fill="#3b3b3b"/>
<circle cx="241.70" cy="187.00" r="3.55" fill="#3b3b3b"/>
<circle cx="249.40" cy="188.10" r="3.55" fill="#3b3b3b"/>
<circle cx="256.00" cy="186.50" r="3.55" fill="#3b3b3b"/>
<circle cx="261.50" cy="190.30" r="3.55" fill="#3b3b3b"/>
<circle cx="242.80" cy="172.20" r="3.55" fill="#3b3b3b"/>
<circle cx="262.60" cy="171.00" r="3.55" fill="#3b3b3b"/>
<circle cx="236.20" cy="194.20" r="3.55" fill="#3b3b3b"/>
<circle cx="248.30" cy="193.60" r="3.55" fill="#3b3b3b"/>
<circle cx="235.10" cy="195.80" r="3.55" fill="#3b3b3b"/>
<circle cx="239.50" cy="197.40" r="3.55" fill="#3b3b3b"/>
<circle cx="245.00" cy="196.30" r="3.55" fill="#3b3b3b"/>
<circle cx="251.60" cy="201.80" r="3.55" fill="#3b3b3b"/>
<circle cx="258.20" cy="199.60" r="3.55" fill="#3b3b3b"/>
<circle cx="262.60" cy="197.40" r="3.55" fill="#3b3b3b"/>
<circle cx="249.40" cy="198.50" r="3.55" fill="#3b3b3b"/>
<circle cx="191.10" cy="195.80" r="3.55" fill="#3b3b3b"/>
<circle cx="136.00" cy="184.40" r="3.55" fill="#3b3b3b"/>
<circle cx="153.60" cy="182.20" r="3.55" fill="#3b3b3b"/>
<circle cx="160.20" cy="188.80" r="3.55" fill="#3b3b3b"/>
<circle cx="170.10" cy="194.30" r="3.55" fill="#3b3b3b"/>
<circle cx="182.20" cy="184.40" r="3.55" fill="#3b3b3b"/>
<circle cx="191.00" cy="182.20" r="3.55" fill="#3b3b3b"/>
<circle cx="196.50" cy="182.20" r="3.55" fill="#3b3b3b"/>
<circle cx="180.10" cy="214.30" r="3.55" fill="#3b3b3b"/>
<circle cx="278.00" cy="180.00" r="3.55" fill="#3b3b3b"/>
<circle cx="270.00" cy="182.00" r="3.55" fill="#3b3b3b"/>
<circle cx="264.00" cy="178.00" r="3.55" fill="#3b3b3b"/>
<circle cx="280.00" cy="186.00" r="3.55" fill="#3b3b3b"/>
<circle cx="252.00" cy="193.00" r="3.55" fill="#3b3b3b"/>
<circle cx="256.00" cy="190.00" r="3.55" fill="#3b3b3b"/>
<circle cx="244.00" cy="191.00" r="3.55" fill="#3b3b3b"/>
<circle cx="226.00" cy="186.00" r="3.55" fill="#3b3b3b"/>
<circle cx="268.00" cy="196.00" r="3.55" fill="#3b3b3b"/>
<circle cx="284.00" cy="190.00" r="3.55" fill="#3b3b3b"/>
<circle cx="298.00" cy="177.00" r="3.55" fill="#3b3b3b"/>
<circle cx="207.40" cy="141.80" r="3.55" fill="#3b3b3b"/>
<circle cx="221.60" cy="148.00" r="3.55" fill="#3b3b3b"/>
<circle cx="216.30" cy="152.40" r="3.55" fill="#3b3b3b"/>
<circle cx="222.50" cy="156.00" r="3.55" fill="#3b3b3b"/>
<circle cx="197.70" cy="155.00" r="3.55" fill="#3b3b3b"/>
<circle cx="212.70" cy="159.50" r="3.55" fill="#3b3b3b"/>
<circle cx="205.60" cy="161.30" r="3.55" fill="#3b3b3b"/>
<circle cx="216.30" cy="164.80" r="3.55" fill="#3b3b3b"/>
<circle cx="219.80" cy="166.60" r="3.55" fill="#3b3b3b"/>
<circle cx="226.00" cy="168.40" r="3.55" fill="#3b3b3b"/>
<circle cx="230.50" cy="169.30" r="3.55" fill="#3b3b3b"/>
<circle cx="232.20" cy="174.60" r="3.55" fill="#3b3b3b"/>
<circle cx="200.30" cy="166.60" r="3.55" fill="#3b3b3b"/>
<circle cx="202.10" cy="171.90" r="3.55" fill="#3b3b3b"/>
<circle cx="198.50" cy="177.20" r="3.55" fill="#3b3b3b"/>
<circle cx="196.80" cy="182.60" r="3.55" fill="#3b3b3b"/>
<circle cx="211.00" cy="177.20" r="3.55" fill="#3b3b3b"/>
<circle cx="237.60" cy="156.00" r="3.55" fill="#3b3b3b"/>
<circle cx="240.20" cy="155.00" r="3.55" fill="#3b3b3b"/>
<circle cx="238.40" cy="159.50" r="3.55" fill="#3b3b3b"/>
<circle cx="255.30" cy="152.40" r="3.55" fill="#3b3b3b"/>
<circle cx="265.00" cy="148.00" r="3.55" fill="#3b3b3b"/>
<circle cx="242.90" cy="171.90" r="3.55" fill="#3b3b3b"/>
<circle cx="263.30" cy="171.00" r="3.55" fill="#3b3b3b"/>
<circle cx="271.20" cy="176.30" r="3.55" fill="#3b3b3b"/>
<circle cx="273.90" cy="173.70" r="3.55" fill="#3b3b3b"/>
<circle cx="228.70" cy="182.60" r="3.55" fill="#3b3b3b"/>
<circle cx="234.00" cy="183.40" r="3.55" fill="#3b3b3b"/>
<circle cx="239.30" cy="186.10" r="3.55" fill="#3b3b3b"/>
<circle cx="248.20" cy="187.00" r="3.55" fill="#3b3b3b"/>
<circle cx="257.10" cy="187.00" r="3.55" fill="#3b3b3b"/>
<circle cx="265.90" cy="187.90" r="3.55" fill="#3b3b3b"/>
<circle cx="273.00" cy="187.90" r="3.55" fill="#3b3b3b"/>
<circle cx="235.80" cy="188.80" r="3.55" fill="#3b3b3b"/>
<circle cx="148.00" cy="173.90" r="3.55" fill="#3b3b3b"/>
<circle cx="153.40" cy="181.80" r="3.55" fill="#3b3b3b"/>
<circle cx="185.30" cy="176.50" r="3.55" fill="#3b3b3b"/>
<circle cx="180.00" cy="212.90" r="3.55" fill="#3b3b3b"/>
<circle cx="237.90" cy="183.40" r="3.55" fill="#3b3b3b"/>
<circle cx="242.80" cy="188.30" r="3.55" fill="#3b3b3b"/>
<circle cx="249.60" cy="187.30" r="3.55" fill="#3b3b3b"/>
<circle cx="256.40" cy="185.30" r="3.55" fill="#3b3b3b"/>
<circle cx="262.30" cy="189.20" r="3.55" fill="#3b3b3b"/>
<circle cx="254.50" cy="194.10" r="3.55" fill="#3b3b3b"/>
<circle cx="248.60" cy="196.10" r="3.55" fill="#3b3b3b"/>
<circle cx="241.80" cy="195.10" r="3.55" fill="#3b3b3b"/>
<circle cx="260.30" cy="199.00" r="3.55" fill="#3b3b3b"/>
<circle cx="267.20" cy="189.20" r="3.55" fill="#3b3b3b"/>
<circle cx="272.00" cy="191.20" r="3.55" fill="#3b3b3b"/>
<circle cx="273.00" cy="201.90" r="3.55" fill="#3b3b3b"/>
<circle cx="278.90" cy="191.20" r="3.55" fill="#3b3b3b"/>
<circle cx="283.70" cy="190.20" r="3.55" fill="#3b3b3b"/>
<circle cx="289.60" cy="193.10" r="3.55" fill="#3b3b3b"/>
<circle cx="293.50" cy="187.30" r="3.55" fill="#3b3b3b"/>
<circle cx="297.40" cy="185.30" r="3.55" fill="#3b3b3b"/>
<circle cx="287.60" cy="181.40" r="3.55" fill="#3b3b3b"/>
<circle cx="281.80" cy="178.50" r="3.55" fill="#3b3b3b"/>
<circle cx="285.70" cy="175.60" r="3.55" fill="#3b3b3b"/>
<circle cx="280.80" cy="172.70" r="3.55" fill="#3b3b3b"/>
<circle cx="271.10" cy="174.60" r="3.55" fill="#3b3b3b"/>
<circle cx="274.00" cy="173.60" r="3.55" fill="#3b3b3b"/>
<circle cx="263.30" cy="170.70" r="3.55" fill="#3b3b3b"/>
<circle cx="242.80" cy="171.70" r="3.55" fill="#3b3b3b"/>
<circle cx="296.40" cy="169.70" r="3.55" fill="#3b3b3b"/>
<circle cx="301.30" cy="167.80" r="3.55" fill="#3b3b3b"/>
<circle cx="303.20" cy="162.90" r="3.55" fill="#3b3b3b"/>
<circle cx="300.30" cy="174.60" r="3.55" fill="#3b3b3b"/>
<circle cx="186.00" cy="190.00" r="3.55" fill="#3b3b3b"/>
<circle cx="189.00" cy="186.00" r="3.55" fill="#3b3b3b"/>
<circle cx="192.00" cy="182.00" r="3.55" fill="#3b3b3b"/>
<circle cx="195.00" cy="178.00" r="3.55" fill="#3b3b3b"/>
<circle cx="198.00" cy="174.00" r="3.55" fill="#3b3b3b"/>
<circle cx="201.00" cy="170.00" r="3.55" fill="#3b3b3b"/>
<circle cx="204.00" cy="166.00" r="3.55" fill="#3b3b3b"/>
<circle cx="207.00" cy="162.00" r="3.55" fill="#3b3b3b"/>
<circle cx="210.00" cy="158.00" r="3.55" fill="#3b3b3b"/>
<circle cx="213.00" cy="155.00" r="3.55" fill="#3b3b3b"/>
<circle cx="190.00" cy="193.00" r="3.55" fill="#3b3b3b"/>
<circle cx="193.00" cy="189.00" r="3.55" fill="#3b3b3b"/>
<circle cx="196.00" cy="185.00" r="3.55" fill="#3b3b3b"/>
<circle cx="199.00" cy="181.00" r="3.55" fill="#3b3b3b"/>
<circle cx="202.00" cy="177.00" r="3.55" fill="#3b3b3b"/>
<circle cx="205.00" cy="173.00" r="3.55" fill="#3b3b3b"/>
<circle cx="208.00" cy="169.00" r="3.55" fill="#3b3b3b"/>
<circle cx="211.00" cy="165.00" r="3.55" fill="#3b3b3b"/>
<circle cx="216.00" cy="165.00" r="3.55" fill="#3b3b3b"/>
<circle cx="220.00" cy="168.00" r="3.55" fill="#3b3b3b"/>
<circle cx="224.00" cy="170.00" r="3.55" fill="#3b3b3b"/>
<circle cx="228.00" cy="172.00" r="3.55" fill="#3b3b3b"/>
<circle cx="232.00" cy="175.00" r="3.55" fill="#3b3b3b"/>
<circle cx="236.00" cy="178.00" r="3.55" fill="#3b3b3b"/>
<circle cx="240.00" cy="181.00" r="3.55" fill="#3b3b3b"/>
<circle cx="137.80" cy="184.50" r="3.55" fill="#3b3b3b"/>
<circle cx="141.70" cy="179.00" r="3.55" fill="#3b3b3b"/>
<circle cx="143.20" cy="190.70" r="3.55" fill="#3b3b3b"/>
<circle cx="147.90" cy="192.20" r="3.55" fill="#3b3b3b"/>
<circle cx="153.40" cy="182.10" r="3.55" fill="#3b3b3b"/>
<circle cx="147.90" cy="174.30" r="3.55" fill="#3b3b3b"/>
<circle cx="151.80" cy="192.20" r="3.55" fill="#3b3b3b"/>
<circle cx="157.30" cy="193.00" r="3.55" fill="#3b3b3b"/>
<circle cx="160.40" cy="189.90" r="3.55" fill="#3b3b3b"/>
<circle cx="162.70" cy="196.10" r="3.55" fill="#3b3b3b"/>
<circle cx="167.40" cy="199.30" r="3.55" fill="#3b3b3b"/>
<circle cx="170.50" cy="204.70" r="3.55" fill="#3b3b3b"/>
<circle cx="168.90" cy="193.80" r="3.55" fill="#3b3b3b"/>
<circle cx="179.80" cy="195.40" r="3.55" fill="#3b3b3b"/>
<circle cx="181.40" cy="181.30" r="3.55" fill="#3b3b3b"/>
<circle cx="185.30" cy="176.70" r="3.55" fill="#3b3b3b"/>
<circle cx="183.00" cy="189.10" r="3.55" fill="#3b3b3b"/>
<circle cx="186.10" cy="193.80" r="3.55" fill="#3b3b3b"/>
<circle cx="187.60" cy="186.00" r="3.55" fill="#3b3b3b"/>
<circle cx="179.80" cy="213.30" r="3.55" fill="#3b3b3b"/>
<circle cx="139.00" cy="188.00" r="3.55" fill="#3b3b3b"/>
<circle cx="136.00" cy="192.00" r="3.55" fill="#3b3b3b"/>
<circle cx="140.08" cy="188.97" r="3.55" fill="#3b3b3b"/>
<circle cx="140.23" cy="191.72" r="3.55" fill="#3b3b3b"/>
<circle cx="143.61" cy="189.37" r="3.55" fill="#3b3b3b"/>
<circle cx="143.89" cy="193.05" r="3.55" fill="#3b3b3b"/>
<circle cx="145.25" cy="192.87" r="3.55" fill="#3b3b3b"/>
<circle cx="149.22" cy="192.66" r="3.55" fill="#3b3b3b"/>
<circle cx="149.64" cy="194.66" r="3.55" fill="#3b3b3b"/>
<circle cx="155.76" cy="193.01" r="3.55" fill="#3b3b3b"/>
<circle cx="157.34" cy="193.29" r="3.55" fill="#3b3b3b"/>
<circle cx="159.79" cy="193.93" r="3.55" fill="#3b3b3b"/>
<circle cx="162.39" cy="198.75" r="3.55" fill="#3b3b3b"/>
<circle cx="165.38" cy="194.68" r="3.55" fill="#3b3b3b"/>
<circle cx="164.61" cy="201.01" r="3.55" fill="#3b3b3b"/>
<circle cx="168.54" cy="198.34" r="3.55" fill="#3b3b3b"/>
<circle cx="167.63" cy="202.28" r="3.55" fill="#3b3b3b"/>
<circle cx="170.21" cy="194.38" r="3.55" fill="#3b3b3b"/>
<circle cx="169.70" cy="199.19" r="3.55" fill="#3b3b3b"/>
<circle cx="170.90" cy="204.76" r="3.55" fill="#3b3b3b"/>
<circle cx="172.83" cy="197.50" r="3.55" fill="#3b3b3b"/>
<circle cx="172.18" cy="201.26" r="3.55" fill="#3b3b3b"/>
<circle cx="173.83" cy="204.61" r="3.55" fill="#3b3b3b"/>
<circle cx="175.17" cy="196.61" r="3.55" fill="#3b3b3b"/>
<circle cx="175.79" cy="199.81" r="3.55" fill="#3b3b3b"/>
<circle cx="175.40" cy="202.63" r="3.55" fill="#3b3b3b"/>
<circle cx="177.14" cy="197.61" r="3.55" fill="#3b3b3b"/>
<circle cx="177.21" cy="200.93" r="3.55" fill="#3b3b3b"/>
<circle cx="180.32" cy="196.63" r="3.55" fill="#3b3b3b"/>
<circle cx="179.92" cy="199.27" r="3.55" fill="#3b3b3b"/>
<circle cx="182.76" cy="187.06" r="3.55" fill="#3b3b3b"/>
<circle cx="183.17" cy="190.34" r="3.55" fill="#3b3b3b"/>
<circle cx="183.49" cy="193.15" r="3.55" fill="#3b3b3b"/>
<circle cx="183.42" cy="196.96" r="3.55" fill="#3b3b3b"/>
<circle cx="185.55" cy="185.73" r="3.55" fill="#3b3b3b"/>
<circle cx="184.88" cy="189.86" r="3.55" fill="#3b3b3b"/>
<circle cx="184.68" cy="192.50" r="3.55" fill="#3b3b3b"/>
<circle cx="188.64" cy="183.80" r="3.55" fill="#3b3b3b"/>
<circle cx="188.27" cy="188.39" r="3.55" fill="#3b3b3b"/>
<circle cx="187.51" cy="190.32" r="3.55" fill="#3b3b3b"/>
<circle cx="187.44" cy="194.85" r="3.55" fill="#3b3b3b"/>
</g>
<path d="M34.30 226.2v-5M34.30 1.4v5M81.58 226.2v-5M81.58 1.4v5M128.86 226.2v-5M128.86 1.4v5M176.14 226.2v-5M176.14 1.4v5M223.42 226.2v-5M223.42 1.4v5M270.70 226.2v-5M270.70 1.4v5M317.98 226.2v-5M317.98 1.4v5M31.5 218.40h5M330.0 218.40h-5M31.5 184.90h5M330.0 184.90h-5M31.5 151.40h5M330.0 151.40h-5M31.5 117.90h5M330.0 117.90h-5M31.5 84.40h5M330.0 84.40h-5M31.5 50.90h5M330.0 50.90h-5M31.5 17.40h5M330.0 17.40h-5" class="tmaj"/>
<path d="M34.30 226.2v-2.7M34.30 1.4v2.7M46.12 226.2v-2.7M46.12 1.4v2.7M57.94 226.2v-2.7M57.94 1.4v2.7M69.76 226.2v-2.7M69.76 1.4v2.7M81.58 226.2v-2.7M81.58 1.4v2.7M93.40 226.2v-2.7M93.40 1.4v2.7M105.22 226.2v-2.7M105.22 1.4v2.7M117.04 226.2v-2.7M117.04 1.4v2.7M128.86 226.2v-2.7M128.86 1.4v2.7M140.68 226.2v-2.7M140.68 1.4v2.7M152.50 226.2v-2.7M152.50 1.4v2.7M164.32 226.2v-2.7M164.32 1.4v2.7M176.14 226.2v-2.7M176.14 1.4v2.7M187.96 226.2v-2.7M187.96 1.4v2.7M199.78 226.2v-2.7M199.78 1.4v2.7M211.60 226.2v-2.7M211.60 1.4v2.7M223.42 226.2v-2.7M223.42 1.4v2.7M235.24 226.2v-2.7M235.24 1.4v2.7M247.06 226.2v-2.7M247.06 1.4v2.7M258.88 226.2v-2.7M258.88 1.4v2.7M270.70 226.2v-2.7M270.70 1.4v2.7M282.52 226.2v-2.7M282.52 1.4v2.7M294.34 226.2v-2.7M294.34 1.4v2.7M306.16 226.2v-2.7M306.16 1.4v2.7M317.98 226.2v-2.7M317.98 1.4v2.7M31.5 225.10h2.7M330.0 225.10h-2.7M31.5 218.40h2.7M330.0 218.40h-2.7M31.5 211.70h2.7M330.0 211.70h-2.7M31.5 205.00h2.7M330.0 205.00h-2.7M31.5 198.30h2.7M330.0 198.30h-2.7M31.5 191.60h2.7M330.0 191.60h-2.7M31.5 184.90h2.7M330.0 184.90h-2.7M31.5 178.20h2.7M330.0 178.20h-2.7M31.5 171.50h2.7M330.0 171.50h-2.7M31.5 164.80h2.7M330.0 164.80h-2.7M31.5 158.10h2.7M330.0 158.10h-2.7M31.5 151.40h2.7M330.0 151.40h-2.7M31.5 144.70h2.7M330.0 144.70h-2.7M31.5 138.00h2.7M330.0 138.00h-2.7M31.5 131.30h2.7M330.0 131.30h-2.7M31.5 124.60h2.7M330.0 124.60h-2.7M31.5 117.90h2.7M330.0 117.90h-2.7M31.5 111.20h2.7M330.0 111.20h-2.7M31.5 104.50h2.7M330.0 104.50h-2.7M31.5 97.80h2.7M330.0 97.80h-2.7M31.5 91.10h2.7M330.0 91.10h-2.7M31.5 84.40h2.7M330.0 84.40h-2.7M31.5 77.70h2.7M330.0 77.70h-2.7M31.5 71.00h2.7M330.0 71.00h-2.7M31.5 64.30h2.7M330.0 64.30h-2.7M31.5 57.60h2.7M330.0 57.60h-2.7M31.5 50.90h2.7M330.0 50.90h-2.7M31.5 44.20h2.7M330.0 44.20h-2.7M31.5 37.50h2.7M330.0 37.50h-2.7M31.5 30.80h2.7M330.0 30.80h-2.7M31.5 24.10h2.7M330.0 24.10h-2.7M31.5 17.40h2.7M330.0 17.40h-2.7M31.5 10.70h2.7M330.0 10.70h-2.7M31.5 4.00h2.7M330.0 4.00h-2.7" class="tmin"/>
<path d="M31.5 0V226.7" fill="none" stroke="#111" stroke-width="1.15"/><path d="M330.0 0V226.7" fill="none" stroke="#8c8c8c" stroke-width="1.8"/><path d="M31.0 226.2H330.5" fill="none" stroke="#111" stroke-width="1.15"/><rect x="30.95" y="0" width="299.6" height="1.9" fill="#8a8a8a"/>
<line x1="437.50" y1="226.0" x2="437.50" y2="0.0" class="grid"/>
<line x1="496.98" y1="226.0" x2="496.98" y2="0.0" class="grid"/>
<line x1="556.46" y1="226.0" x2="556.46" y2="0.0" class="grid"/>
<line x1="615.94" y1="226.0" x2="615.94" y2="0.0" class="grid"/>
<line x1="675.42" y1="226.0" x2="675.42" y2="0.0" class="grid"/>
<line x1="385.1" y1="189.20" x2="683.6" y2="189.20" class="grid"/>
<line x1="385.1" y1="147.35" x2="683.6" y2="147.35" class="grid"/>
<line x1="385.1" y1="105.50" x2="683.6" y2="105.50" class="grid"/>
<line x1="385.1" y1="63.65" x2="683.6" y2="63.65" class="grid"/>
<line x1="385.1" y1="21.80" x2="683.6" y2="21.80" class="grid"/>
<path d="M414.40 73.49L415.59 72.30L417.10 73.81L418.61 72.30L419.80 73.49L418.29 75.00L419.80 76.51L418.61 77.70L417.10 76.19L415.59 77.70L414.40 76.51L415.91 75.00Z" fill="#d62d2d"/>
<path d="M430.50 72.09L431.69 70.90L433.20 72.41L434.71 70.90L435.90 72.09L434.39 73.60L435.90 75.11L434.71 76.30L433.20 74.79L431.69 76.30L430.50 75.11L432.01 73.60Z" fill="#d62d2d"/>
<path d="M440.40 102.99L441.59 101.80L443.10 103.31L444.61 101.80L445.80 102.99L444.29 104.50L445.80 106.01L444.61 107.20L443.10 105.69L441.59 107.20L440.40 106.01L441.91 104.50Z" fill="#d62d2d"/>
<path d="M446.90 138.39L448.09 137.20L449.60 138.71L451.11 137.20L452.30 138.39L450.79 139.90L452.30 141.41L451.11 142.60L449.60 141.09L448.09 142.60L446.90 141.41L448.41 139.90Z" fill="#d62d2d"/>
<path d="M451.30 145.69L452.49 144.50L454.00 146.01L455.51 144.50L456.70 145.69L455.19 147.20L456.70 148.71L455.51 149.90L454.00 148.39L452.49 149.90L451.30 148.71L452.81 147.20Z" fill="#d62d2d"/>
<path d="M455.45 147.06L456.64 145.87L458.15 147.39L459.66 145.87L460.85 147.06L459.34 148.57L460.85 150.09L459.66 151.27L458.15 149.76L456.64 151.27L455.45 150.09L456.96 148.57Z" fill="#d62d2d"/>
<path d="M459.08 149.54L460.27 148.35L461.78 149.86L463.30 148.35L464.48 149.54L462.97 151.05L464.48 152.56L463.30 153.75L461.78 152.24L460.27 153.75L459.08 152.56L460.60 151.05Z" fill="#d62d2d"/>
<path d="M462.26 152.58L463.45 151.39L464.96 152.90L466.47 151.39L467.66 152.58L466.15 154.09L467.66 155.60L466.47 156.79L464.96 155.28L463.45 156.79L462.26 155.60L463.77 154.09Z" fill="#d62d2d"/>
<path d="M465.29 155.77L466.47 154.58L467.99 156.10L469.50 154.58L470.69 155.77L469.17 157.28L470.69 158.80L469.50 159.98L467.99 158.47L466.47 159.98L465.29 158.80L466.80 157.28Z" fill="#d62d2d"/>
<path d="M468.22 159.05L469.41 157.86L470.92 159.37L472.43 157.86L473.62 159.05L472.11 160.56L473.62 162.07L472.43 163.26L470.92 161.75L469.41 163.26L468.22 162.07L469.73 160.56Z" fill="#d62d2d"/>
<path d="M471.22 162.26L472.41 161.08L473.92 162.59L475.44 161.08L476.62 162.26L475.11 163.78L476.62 165.29L475.44 166.48L473.92 164.96L472.41 166.48L471.22 165.29L472.74 163.78Z" fill="#d62d2d"/>
<path d="M474.46 165.24L475.65 164.05L477.16 165.57L478.67 164.05L479.86 165.24L478.35 166.75L479.86 168.27L478.67 169.45L477.16 167.94L475.65 169.45L474.46 168.27L475.97 166.75Z" fill="#d62d2d"/>
<path d="M478.09 167.66L479.28 166.47L480.79 167.98L482.30 166.47L483.49 167.66L481.98 169.17L483.49 170.68L482.30 171.87L480.79 170.36L479.28 171.87L478.09 170.68L479.60 169.17Z" fill="#d62d2d"/>
<path d="M482.03 169.61L483.22 168.42L484.73 169.93L486.25 168.42L487.43 169.61L485.92 171.12L487.43 172.63L486.25 173.82L484.73 172.31L483.22 173.82L482.03 172.63L483.55 171.12Z" fill="#d62d2d"/>
<path d="M485.77 171.90L486.96 170.71L488.47 172.23L489.98 170.71L491.17 171.90L489.66 173.41L491.17 174.93L489.98 176.11L488.47 174.60L486.96 176.11L485.77 174.93L487.28 173.41Z" fill="#d62d2d"/>
<path d="M489.51 174.19L490.70 173.01L492.21 174.52L493.72 173.01L494.91 174.19L493.40 175.71L494.91 177.22L493.72 178.41L492.21 176.89L490.70 178.41L489.51 177.22L491.02 175.71Z" fill="#d62d2d"/>
<path d="M493.43 176.18L494.62 175.00L496.13 176.51L497.65 175.00L498.83 176.18L497.32 177.70L498.83 179.21L497.65 180.40L496.13 178.88L494.62 180.40L493.43 179.21L494.95 177.70Z" fill="#d62d2d"/>
<path d="M497.40 178.08L498.59 176.89L500.10 178.40L501.62 176.89L502.80 178.08L501.29 179.59L502.80 181.10L501.62 182.29L500.10 180.78L498.59 182.29L497.40 181.10L498.92 179.59Z" fill="#d62d2d"/>
<path d="M500.49 175.86L501.67 174.68L503.19 176.19L504.70 174.68L505.89 175.86L504.37 177.38L505.89 178.89L504.70 180.08L503.19 178.56L501.67 180.08L500.49 178.89L502.00 177.38Z" fill="#d62d2d"/>
<path d="M503.12 172.35L504.31 171.17L505.82 172.68L507.33 171.17L508.52 172.35L507.01 173.87L508.52 175.38L507.33 176.57L505.82 175.05L504.31 176.57L503.12 175.38L504.63 173.87Z" fill="#d62d2d"/>
<path d="M505.08 168.42L506.27 167.23L507.78 168.74L509.30 167.23L510.48 168.42L508.97 169.93L510.48 171.44L509.30 172.63L507.78 171.12L506.27 172.63L505.08 171.44L506.60 169.93Z" fill="#d62d2d"/>
<path d="M506.92 164.42L508.11 163.23L509.62 164.75L511.14 163.23L512.32 164.42L510.81 165.93L512.32 167.45L511.14 168.63L509.62 167.12L508.11 168.63L506.92 167.45L508.44 165.93Z" fill="#d62d2d"/>
<path d="M508.75 160.42L509.94 159.23L511.45 160.74L512.96 159.23L514.15 160.42L512.64 161.93L514.15 163.44L512.96 164.63L511.45 163.12L509.94 164.63L508.75 163.44L510.26 161.93Z" fill="#d62d2d"/>
<path d="M510.44 156.36L511.63 155.17L513.14 156.68L514.65 155.17L515.84 156.36L514.33 157.87L515.84 159.38L514.65 160.57L513.14 159.06L511.63 160.57L510.44 159.38L511.95 157.87Z" fill="#d62d2d"/>
<path d="M512.15 152.30L513.34 151.12L514.85 152.63L516.37 151.12L517.55 152.30L516.04 153.82L517.55 155.33L516.37 156.52L514.85 155.00L513.34 156.52L512.15 155.33L513.67 153.82Z" fill="#d62d2d"/>
<path d="M513.91 148.27L515.09 147.08L516.61 148.59L518.12 147.08L519.31 148.27L517.79 149.78L519.31 151.29L518.12 152.48L516.61 150.97L515.09 152.48L513.91 151.29L515.42 149.78Z" fill="#d62d2d"/>
<path d="M515.63 144.22L516.82 143.03L518.33 144.54L519.84 143.03L521.03 144.22L519.52 145.73L521.03 147.24L519.84 148.43L518.33 146.92L516.82 148.43L515.63 147.24L517.14 145.73Z" fill="#d62d2d"/>
<path d="M517.38 140.19L518.57 139.00L520.08 140.51L521.59 139.00L522.78 140.19L521.27 141.70L522.78 143.21L521.59 144.40L520.08 142.89L518.57 144.40L517.38 143.21L518.89 141.70Z" fill="#d62d2d"/>
<path d="M519.48 136.32L520.67 135.13L522.18 136.65L523.70 135.13L524.88 136.32L523.37 137.83L524.88 139.35L523.70 140.53L522.18 139.02L520.67 140.53L519.48 139.35L521.00 137.83Z" fill="#d62d2d"/>
<path d="M521.69 132.51L522.87 131.33L524.39 132.84L525.90 131.33L527.09 132.51L525.57 134.03L527.09 135.54L525.90 136.73L524.39 135.21L522.87 136.73L521.69 135.54L523.20 134.03Z" fill="#d62d2d"/>
<path d="M524.08 128.82L525.27 127.64L526.78 129.15L528.29 127.64L529.48 128.82L527.97 130.34L529.48 131.85L528.29 133.04L526.78 131.52L525.27 133.04L524.08 131.85L525.59 130.34Z" fill="#d62d2d"/>
<path d="M526.67 125.27L527.86 124.08L529.37 125.59L530.88 124.08L532.07 125.27L530.56 126.78L532.07 128.29L530.88 129.48L529.37 127.97L527.86 129.48L526.67 128.29L528.18 126.78Z" fill="#d62d2d"/>
<path d="M529.35 121.78L530.54 120.59L532.05 122.10L533.57 120.59L534.75 121.78L533.24 123.29L534.75 124.80L533.57 125.99L532.05 124.48L530.54 125.99L529.35 124.80L530.87 123.29Z" fill="#d62d2d"/>
<path d="M532.14 118.38L533.33 117.19L534.84 118.70L536.36 117.19L537.54 118.38L536.03 119.89L537.54 121.40L536.36 122.59L534.84 121.08L533.33 122.59L532.14 121.40L533.66 119.89Z" fill="#d62d2d"/>
<path d="M536.02 116.58L537.20 115.39L538.72 116.90L540.23 115.39L541.42 116.58L539.90 118.09L541.42 119.60L540.23 120.79L538.72 119.28L537.20 120.79L536.02 119.60L537.53 118.09Z" fill="#d62d2d"/>
<path d="M539.59 114.09L540.78 112.91L542.29 114.42L543.81 112.91L544.99 114.09L543.48 115.61L544.99 117.12L543.81 118.31L542.29 116.79L540.78 118.31L539.59 117.12L541.11 115.61Z" fill="#d62d2d"/>
<path d="M543.66 114.35L544.85 113.16L546.36 114.67L547.87 113.16L549.06 114.35L547.55 115.86L549.06 117.37L547.87 118.56L546.36 117.05L544.85 118.56L543.66 117.37L545.17 115.86Z" fill="#d62d2d"/>
<path d="M547.86 114.55L549.05 113.36L550.56 114.87L552.08 113.36L553.26 114.55L551.75 116.06L553.26 117.57L552.08 118.76L550.56 117.25L549.05 118.76L547.86 117.57L549.38 116.06Z" fill="#d62d2d"/>
<path d="M550.21 118.27L551.40 117.08L552.91 118.59L554.42 117.08L555.61 118.27L554.10 119.78L555.61 121.29L554.42 122.48L552.91 120.97L551.40 122.48L550.21 121.29L551.72 119.78Z" fill="#d62d2d"/>
<path d="M553.15 121.53L554.34 120.34L555.85 121.85L557.36 120.34L558.55 121.53L557.04 123.04L558.55 124.55L557.36 125.74L555.85 124.23L554.34 125.74L553.15 124.55L554.66 123.04Z" fill="#d62d2d"/>
<path d="M555.09 125.45L556.28 124.26L557.79 125.77L559.30 124.26L560.49 125.45L558.98 126.96L560.49 128.47L559.30 129.66L557.79 128.15L556.28 129.66L555.09 128.47L556.60 126.96Z" fill="#d62d2d"/>
<path d="M556.71 129.52L557.90 128.34L559.41 129.85L560.92 128.34L562.11 129.52L560.60 131.04L562.11 132.55L560.92 133.74L559.41 132.22L557.90 133.74L556.71 132.55L558.22 131.04Z" fill="#d62d2d"/>
<path d="M557.87 133.77L559.06 132.58L560.57 134.09L562.08 132.58L563.27 133.77L561.76 135.28L563.27 136.79L562.08 137.98L560.57 136.47L559.06 137.98L557.87 136.79L559.38 135.28Z" fill="#d62d2d"/>
<path d="M559.03 138.01L560.22 136.82L561.73 138.34L563.24 136.82L564.43 138.01L562.92 139.52L564.43 141.04L563.24 142.22L561.73 140.71L560.22 142.22L559.03 141.04L560.54 139.52Z" fill="#d62d2d"/>
<path d="M561.07 141.79L562.26 140.60L563.77 142.11L565.28 140.60L566.47 141.79L564.96 143.30L566.47 144.81L565.28 146.00L563.77 144.49L562.26 146.00L561.07 144.81L562.58 143.30Z" fill="#d62d2d"/>
<path d="M563.84 145.21L565.02 144.02L566.54 145.53L568.05 144.02L569.24 145.21L567.72 146.72L569.24 148.23L568.05 149.42L566.54 147.91L565.02 149.42L563.84 148.23L565.35 146.72Z" fill="#d62d2d"/>
<path d="M566.41 148.77L567.60 147.58L569.11 149.10L570.62 147.58L571.81 148.77L570.30 150.28L571.81 151.80L570.62 152.98L569.11 151.47L567.60 152.98L566.41 151.80L567.92 150.28Z" fill="#d62d2d"/>
<path d="M569.03 152.31L570.21 151.12L571.73 152.63L573.24 151.12L574.43 152.31L572.91 153.82L574.43 155.33L573.24 156.52L571.73 155.01L570.21 156.52L569.03 155.33L570.54 153.82Z" fill="#d62d2d"/>
<path d="M571.95 155.60L573.13 154.41L574.65 155.92L576.16 154.41L577.35 155.60L575.83 157.11L577.35 158.62L576.16 159.81L574.65 158.30L573.13 159.81L571.95 158.62L573.46 157.11Z" fill="#d62d2d"/>
<path d="M575.29 158.44L576.48 157.26L577.99 158.77L579.50 157.26L580.69 158.44L579.18 159.96L580.69 161.47L579.50 162.66L577.99 161.14L576.48 162.66L575.29 161.47L576.80 159.96Z" fill="#d62d2d"/>
<path d="M579.34 160.07L580.53 158.88L582.04 160.40L583.56 158.88L584.74 160.07L583.23 161.58L584.74 163.10L583.56 164.28L582.04 162.77L580.53 164.28L579.34 163.10L580.86 161.58Z" fill="#d62d2d"/>
<path d="M583.69 160.25L584.88 159.06L586.39 160.58L587.91 159.06L589.09 160.25L587.58 161.76L589.09 163.28L587.91 164.46L586.39 162.95L584.88 164.46L583.69 163.28L585.21 161.76Z" fill="#d62d2d"/>
<path d="M587.74 158.74L588.92 157.55L590.44 159.06L591.95 157.55L593.14 158.74L591.62 160.25L593.14 161.76L591.95 162.95L590.44 161.44L588.92 162.95L587.74 161.76L589.25 160.25Z" fill="#d62d2d"/>
<path d="M591.03 155.85L592.22 154.66L593.73 156.17L595.24 154.66L596.43 155.85L594.92 157.36L596.43 158.87L595.24 160.06L593.73 158.55L592.22 160.06L591.03 158.87L592.54 157.36Z" fill="#d62d2d"/>
<path d="M594.63 153.33L595.82 152.15L597.33 153.66L598.84 152.15L600.03 153.33L598.52 154.85L600.03 156.36L598.84 157.55L597.33 156.03L595.82 157.55L594.63 156.36L596.14 154.85Z" fill="#d62d2d"/>
<path d="M597.48 149.99L598.66 148.80L600.18 150.31L601.69 148.80L602.88 149.99L601.36 151.50L602.88 153.01L601.69 154.20L600.18 152.69L598.66 154.20L597.48 153.01L598.99 151.50Z" fill="#d62d2d"/>
<path d="M600.67 146.98L601.86 145.80L603.37 147.31L604.89 145.80L606.07 146.98L604.56 148.50L606.07 150.01L604.89 151.20L603.37 149.68L601.86 151.20L600.67 150.01L602.19 148.50Z" fill="#d62d2d"/>
<path d="M603.73 143.87L604.92 142.68L606.43 144.19L607.94 142.68L609.13 143.87L607.62 145.38L609.13 146.89L607.94 148.08L606.43 146.57L604.92 148.08L603.73 146.89L605.24 145.38Z" fill="#d62d2d"/>
<path d="M606.32 140.30L607.50 139.12L609.02 140.63L610.53 139.12L611.72 140.30L610.20 141.82L611.72 143.33L610.53 144.52L609.02 143.00L607.50 144.52L606.32 143.33L607.83 141.82Z" fill="#d62d2d"/>
<path d="M609.72 137.52L610.90 136.33L612.42 137.84L613.93 136.33L615.12 137.52L613.60 139.03L615.12 140.54L613.93 141.73L612.42 140.22L610.90 141.73L609.72 140.54L611.23 139.03Z" fill="#d62d2d"/>
<path d="M612.85 134.44L614.04 133.25L615.55 134.76L617.06 133.25L618.25 134.44L616.74 135.95L618.25 137.46L617.06 138.65L615.55 137.14L614.04 138.65L612.85 137.46L614.36 135.95Z" fill="#d62d2d"/>
<path d="M616.37 131.80L617.55 130.61L619.07 132.12L620.58 130.61L621.77 131.80L620.25 133.31L621.77 134.82L620.58 136.01L619.07 134.50L617.55 136.01L616.37 134.82L617.88 133.31Z" fill="#d62d2d"/>
<path d="M620.08 129.45L621.27 128.26L622.78 129.77L624.30 128.26L625.48 129.45L623.97 130.96L625.48 132.47L624.30 133.66L622.78 132.15L621.27 133.66L620.08 132.47L621.60 130.96Z" fill="#d62d2d"/>
<path d="M623.47 126.65L624.66 125.46L626.17 126.97L627.69 125.46L628.87 126.65L627.36 128.16L628.87 129.67L627.69 130.86L626.17 129.35L624.66 130.86L623.47 129.67L624.99 128.16Z" fill="#d62d2d"/>
<path d="M627.25 125.33L628.44 124.15L629.95 125.66L631.46 124.15L632.65 125.33L631.14 126.85L632.65 128.36L631.46 129.55L629.95 128.03L628.44 129.55L627.25 128.36L628.76 126.85Z" fill="#d62d2d"/>
<path d="M631.47 126.29L632.66 125.10L634.17 126.61L635.68 125.10L636.87 126.29L635.36 127.80L636.87 129.31L635.68 130.50L634.17 128.99L632.66 130.50L631.47 129.31L632.98 127.80Z" fill="#d62d2d"/>
<path d="M635.75 125.54L636.94 124.35L638.45 125.86L639.97 124.35L641.15 125.54L639.64 127.05L641.15 128.56L639.97 129.75L638.45 128.24L636.94 129.75L635.75 128.56L637.27 127.05Z" fill="#d62d2d"/>
<path d="M639.90 125.70L641.09 124.52L642.60 126.03L644.11 124.52L645.30 125.70L643.79 127.22L645.30 128.73L644.11 129.92L642.60 128.40L641.09 129.92L639.90 128.73L641.41 127.22Z" fill="#d62d2d"/>
<path d="M644.13 126.88L645.32 125.69L646.83 127.20L648.34 125.69L649.53 126.88L648.02 128.39L649.53 129.90L648.34 131.09L646.83 129.58L645.32 131.09L644.13 129.90L645.64 128.39Z" fill="#d62d2d"/>
<path d="M647.02 124.28L648.21 123.09L649.72 124.60L651.23 123.09L652.42 124.28L650.91 125.79L652.42 127.30L651.23 128.49L649.72 126.98L648.21 128.49L647.02 127.30L648.53 125.79Z" fill="#d62d2d"/>
<path d="M647.90 122.99L649.09 121.80L650.60 123.31L652.11 121.80L653.30 122.99L651.79 124.50L653.30 126.01L652.11 127.20L650.60 125.69L649.09 127.20L647.90 126.01L649.41 124.50Z" fill="#d62d2d"/>
<path d="M649.00 119.59L650.19 118.40L651.70 119.91L653.21 118.40L654.40 119.59L652.89 121.10L654.40 122.61L653.21 123.80L651.70 122.29L650.19 123.80L649.00 122.61L650.51 121.10Z" fill="#d62d2d"/>
<path d="M650.60 116.39L651.79 115.20L653.30 116.71L654.81 115.20L656.00 116.39L654.49 117.90L656.00 119.41L654.81 120.60L653.30 119.09L651.79 120.60L650.60 119.41L652.11 117.90Z" fill="#d62d2d"/>
<path d="M652.20 114.19L653.39 113.00L654.90 114.51L656.41 113.00L657.60 114.19L656.09 115.70L657.60 117.21L656.41 118.40L654.90 116.89L653.39 118.40L652.20 117.21L653.71 115.70Z" fill="#d62d2d"/>
<path d="M653.30 112.09L654.49 110.90L656.00 112.41L657.51 110.90L658.70 112.09L657.19 113.60L658.70 115.11L657.51 116.30L656.00 114.79L654.49 116.30L653.30 115.11L654.81 113.60Z" fill="#d62d2d"/>
<path d="M654.30 109.49L655.49 108.30L657.00 109.81L658.51 108.30L659.70 109.49L658.19 111.00L659.70 112.51L658.51 113.70L657.00 112.19L655.49 113.70L654.30 112.51L655.81 111.00Z" fill="#d62d2d"/>
<path d="M655.90 104.09L657.09 102.90L658.60 104.41L660.11 102.90L661.30 104.09L659.79 105.60L661.30 107.11L660.11 108.30L658.60 106.79L657.09 108.30L655.90 107.11L657.41 105.60Z" fill="#d62d2d"/>
<path d="M657.00 101.49L658.19 100.30L659.70 101.81L661.21 100.30L662.40 101.49L660.89 103.00L662.40 104.51L661.21 105.70L659.70 104.19L658.19 105.70L657.00 104.51L658.51 103.00Z" fill="#d62d2d"/>
<path d="M658.60 98.29L659.79 97.10L661.30 98.61L662.81 97.10L664.00 98.29L662.49 99.80L664.00 101.31L662.81 102.50L661.30 100.99L659.79 102.50L658.60 101.31L660.11 99.80Z" fill="#d62d2d"/>
<path d="M660.20 93.49L661.39 92.30L662.90 93.81L664.41 92.30L665.60 93.49L664.09 95.00L665.60 96.51L664.41 97.70L662.90 96.19L661.39 97.70L660.20 96.51L661.71 95.00Z" fill="#d62d2d"/>
<path d="M663.80 84.19L664.99 83.00L666.50 84.51L668.01 83.00L669.20 84.19L667.69 85.70L669.20 87.21L668.01 88.40L666.50 86.89L664.99 88.40L663.80 87.21L665.31 85.70Z" fill="#d62d2d"/>
<path d="M666.70 74.19L667.89 73.00L669.40 74.51L670.91 73.00L672.10 74.19L670.59 75.70L672.10 77.21L670.91 78.40L669.40 76.89L667.89 78.40L666.70 77.21L668.21 75.70Z" fill="#d62d2d"/>
<polygon points="427.30,95.90 429.60,98.20 427.30,100.50 425.00,98.20" fill="#8a8a8a"/>
<polygon points="438.70,116.10 441.00,118.40 438.70,120.70 436.40,118.40" fill="#8a8a8a"/>
<polygon points="451.70,168.60 454.00,170.90 451.70,173.20 449.40,170.90" fill="#8a8a8a"/>
<polygon points="454.49,171.33 456.79,173.63 454.49,175.93 452.19,173.63" fill="#8a8a8a"/>
<polygon points="457.56,173.68 459.86,175.98 457.56,178.28 455.26,175.98" fill="#8a8a8a"/>
<polygon points="460.64,175.99 462.94,178.29 460.64,180.59 458.34,178.29" fill="#8a8a8a"/>
<polygon points="463.18,178.94 465.48,181.24 463.18,183.54 460.88,181.24" fill="#8a8a8a"/>
<polygon points="466.31,181.25 468.61,183.55 466.31,185.85 464.01,183.55" fill="#8a8a8a"/>
<polygon points="468.72,184.25 471.02,186.55 468.72,188.85 466.42,186.55" fill="#8a8a8a"/>
<polygon points="470.87,187.51 473.17,189.81 470.87,192.11 468.57,189.81" fill="#8a8a8a"/>
<polygon points="474.15,189.57 476.45,191.87 474.15,194.17 471.85,191.87" fill="#8a8a8a"/>
<polygon points="477.32,191.85 479.62,194.15 477.32,196.45 475.02,194.15" fill="#8a8a8a"/>
<polygon points="480.47,194.14 482.77,196.44 480.47,198.74 478.17,196.44" fill="#8a8a8a"/>
<polygon points="483.71,196.31 486.01,198.61 483.71,200.91 481.41,198.61" fill="#8a8a8a"/>
<polygon points="487.09,198.25 489.39,200.55 487.09,202.85 484.79,200.55" fill="#8a8a8a"/>
<polygon points="490.44,200.25 492.74,202.55 490.44,204.85 488.14,202.55" fill="#8a8a8a"/>
<polygon points="493.72,202.36 496.02,204.66 493.72,206.96 491.42,204.66" fill="#8a8a8a"/>
<polygon points="497.21,203.50 499.51,205.80 497.21,208.10 494.91,205.80" fill="#8a8a8a"/>
<polygon points="500.51,201.49 502.81,203.79 500.51,206.09 498.21,203.79" fill="#8a8a8a"/>
<polygon points="503.28,198.75 505.58,201.05 503.28,203.35 500.98,201.05" fill="#8a8a8a"/>
<polygon points="506.17,196.13 508.47,198.43 506.17,200.73 503.87,198.43" fill="#8a8a8a"/>
<polygon points="508.70,193.18 511.00,195.48 508.70,197.78 506.40,195.48" fill="#8a8a8a"/>
<polygon points="510.53,189.79 512.83,192.09 510.53,194.39 508.23,192.09" fill="#8a8a8a"/>
<polygon points="511.87,186.14 514.17,188.44 511.87,190.74 509.57,188.44" fill="#8a8a8a"/>
<polygon points="513.58,182.63 515.88,184.93 513.58,187.23 511.28,184.93" fill="#8a8a8a"/>
<polygon points="515.33,179.14 517.63,181.44 515.33,183.74 513.03,181.44" fill="#8a8a8a"/>
<polygon points="517.09,175.66 519.39,177.96 517.09,180.26 514.79,177.96" fill="#8a8a8a"/>
<polygon points="518.86,172.19 521.16,174.49 518.86,176.79 516.56,174.49" fill="#8a8a8a"/>
<polygon points="520.60,168.70 522.90,171.00 520.60,173.30 518.30,171.00" fill="#8a8a8a"/>
<polygon points="522.35,165.21 524.65,167.51 522.35,169.81 520.05,167.51" fill="#8a8a8a"/>
<polygon points="524.26,161.81 526.56,164.11 524.26,166.41 521.96,164.11" fill="#8a8a8a"/>
<polygon points="526.38,158.54 528.68,160.84 526.38,163.14 524.08,160.84" fill="#8a8a8a"/>
<polygon points="527.79,154.91 530.09,157.21 527.79,159.51 525.49,157.21" fill="#8a8a8a"/>
<polygon points="529.96,151.69 532.26,153.99 529.96,156.29 527.66,153.99" fill="#8a8a8a"/>
<polygon points="532.14,148.47 534.44,150.77 532.14,153.07 529.84,150.77" fill="#8a8a8a"/>
<polygon points="533.49,144.81 535.79,147.11 533.49,149.41 531.19,147.11" fill="#8a8a8a"/>
<polygon points="534.83,141.15 537.13,143.45 534.83,145.75 532.53,143.45" fill="#8a8a8a"/>
<polygon points="538.06,139.17 540.36,141.47 538.06,143.77 535.76,141.47" fill="#8a8a8a"/>
<polygon points="541.69,137.77 543.99,140.07 541.69,142.37 539.39,140.07" fill="#8a8a8a"/>
<polygon points="545.36,137.73 547.66,140.03 545.36,142.33 543.06,140.03" fill="#8a8a8a"/>
<polygon points="548.73,138.04 551.03,140.34 548.73,142.64 546.43,140.34" fill="#8a8a8a"/>
<polygon points="551.37,136.02 553.67,138.32 551.37,140.62 549.07,138.32" fill="#8a8a8a"/>
<polygon points="553.48,139.30 555.78,141.60 553.48,143.90 551.18,141.60" fill="#8a8a8a"/>
<polygon points="555.63,142.55 557.93,144.85 555.63,147.15 553.33,144.85" fill="#8a8a8a"/>
<polygon points="557.72,145.84 560.02,148.14 557.72,150.44 555.42,148.14" fill="#8a8a8a"/>
<polygon points="559.67,149.22 561.97,151.52 559.67,153.82 557.37,151.52" fill="#8a8a8a"/>
<polygon points="561.48,152.67 563.78,154.97 561.48,157.27 559.18,154.97" fill="#8a8a8a"/>
<polygon points="563.12,156.21 565.42,158.51 563.12,160.81 560.82,158.51" fill="#8a8a8a"/>
<polygon points="564.66,159.79 566.96,162.09 564.66,164.39 562.36,162.09" fill="#8a8a8a"/>
<polygon points="566.10,163.41 568.40,165.71 566.10,168.01 563.80,165.71" fill="#8a8a8a"/>
<polygon points="567.65,166.99 569.95,169.29 567.65,171.59 565.35,169.29" fill="#8a8a8a"/>
<polygon points="569.39,170.48 571.69,172.78 569.39,175.08 567.09,172.78" fill="#8a8a8a"/>
<polygon points="571.32,173.86 573.62,176.16 571.32,178.46 569.02,176.16" fill="#8a8a8a"/>
<polygon points="573.56,177.05 575.86,179.35 573.56,181.65 571.26,179.35" fill="#8a8a8a"/>
<polygon points="576.15,179.95 578.45,182.25 576.15,184.55 573.85,182.25" fill="#8a8a8a"/>
<polygon points="579.15,182.37 581.45,184.67 579.15,186.97 576.85,184.67" fill="#8a8a8a"/>
<polygon points="582.65,184.10 584.95,186.40 582.65,188.70 580.35,186.40" fill="#8a8a8a"/>
<polygon points="586.28,185.28 588.58,187.58 586.28,189.88 583.98,187.58" fill="#8a8a8a"/>
<polygon points="589.87,183.76 592.17,186.06 589.87,188.36 587.57,186.06" fill="#8a8a8a"/>
<polygon points="593.36,182.02 595.66,184.32 593.36,186.62 591.06,184.32" fill="#8a8a8a"/>
<polygon points="596.85,180.28 599.15,182.58 596.85,184.88 594.55,182.58" fill="#8a8a8a"/>
<polygon points="599.61,177.54 601.91,179.84 599.61,182.14 597.31,179.84" fill="#8a8a8a"/>
<polygon points="602.34,174.76 604.64,177.06 602.34,179.36 600.04,177.06" fill="#8a8a8a"/>
<polygon points="604.96,171.86 607.26,174.16 604.96,176.46 602.66,174.16" fill="#8a8a8a"/>
<polygon points="607.60,169.00 609.90,171.30 607.60,173.60 605.30,171.30" fill="#8a8a8a"/>
<polygon points="610.36,166.24 612.66,168.54 610.36,170.84 608.06,168.54" fill="#8a8a8a"/>
<polygon points="613.12,163.48 615.42,165.78 613.12,168.08 610.82,165.78" fill="#8a8a8a"/>
<polygon points="616.01,160.90 618.31,163.20 616.01,165.50 613.71,163.20" fill="#8a8a8a"/>
<polygon points="619.33,158.85 621.63,161.15 619.33,163.45 617.03,161.15" fill="#8a8a8a"/>
<polygon points="622.65,156.80 624.95,159.10 622.65,161.40 620.35,159.10" fill="#8a8a8a"/>
<polygon points="626.03,154.86 628.33,157.16 626.03,159.46 623.73,157.16" fill="#8a8a8a"/>
<polygon points="629.50,153.09 631.80,155.39 629.50,157.69 627.20,155.39" fill="#8a8a8a"/>
<polygon points="633.17,151.76 635.47,154.06 633.17,156.36 630.87,154.06" fill="#8a8a8a"/>
<polygon points="636.94,152.21 639.24,154.51 636.94,156.81 634.64,154.51" fill="#8a8a8a"/>
<polygon points="640.70,151.94 643.00,154.24 640.70,156.54 638.40,154.24" fill="#8a8a8a"/>
<polygon points="643.58,149.57 645.88,151.87 643.58,154.17 641.28,151.87" fill="#8a8a8a"/>
<polygon points="645.81,150.62 648.11,152.92 645.81,155.22 643.51,152.92" fill="#8a8a8a"/>
<polygon points="648.28,150.58 650.58,152.88 648.28,155.18 645.98,152.88" fill="#8a8a8a"/>
<polygon points="650.30,148.50 652.60,150.80 650.30,153.10 648.00,150.80" fill="#8a8a8a"/>
<polygon points="652.80,144.80 655.10,147.10 652.80,149.40 650.50,147.10" fill="#8a8a8a"/>
<polygon points="654.90,139.50 657.20,141.80 654.90,144.10 652.60,141.80" fill="#8a8a8a"/>
<polygon points="656.50,134.20 658.80,136.50 656.50,138.80 654.20,136.50" fill="#8a8a8a"/>
<polygon points="658.90,128.30 661.20,130.60 658.90,132.90 656.60,130.60" fill="#8a8a8a"/>
<polygon points="661.80,123.00 664.10,125.30 661.80,127.60 659.50,125.30" fill="#8a8a8a"/>
<polygon points="663.50,115.70 665.80,118.00 663.50,120.30 661.20,118.00" fill="#8a8a8a"/>
<polygon points="665.50,107.60 667.80,109.90 665.50,112.20 663.20,109.90" fill="#8a8a8a"/>
<polygon points="670.30,99.10 672.60,101.40 670.30,103.70 668.00,101.40" fill="#8a8a8a"/>
<rect x="402.65" y="103.25" width="5.5" height="5.5" fill="#e0581c"/>
<rect x="423.85" y="100.25" width="5.5" height="5.5" fill="#e0581c"/>
<rect x="435.95" y="119.95" width="5.5" height="5.5" fill="#e0581c"/>
<rect x="443.95" y="155.25" width="5.5" height="5.5" fill="#e0581c"/>
<rect x="448.75" y="171.65" width="5.5" height="5.5" fill="#e0581c"/>
<rect x="451.35" y="176.24" width="5.5" height="5.5" fill="#e0581c"/>
<rect x="454.43" y="179.93" width="5.5" height="5.5" fill="#e0581c"/>
<rect x="457.56" y="183.16" width="5.5" height="5.5" fill="#e0581c"/>
<rect x="460.65" y="186.74" width="5.5" height="5.5" fill="#e0581c"/>
<rect x="463.69" y="190.60" width="5.5" height="5.5" fill="#e0581c"/>
<rect x="466.71" y="192.80" width="5.5" height="5.5" fill="#e0581c"/>
<rect x="469.80" y="195.20" width="5.5" height="5.5" fill="#e0581c"/>
<rect x="472.89" y="197.57" width="5.5" height="5.5" fill="#e0581c"/>
<rect x="475.99" y="199.51" width="5.5" height="5.5" fill="#e0581c"/>
<rect x="479.12" y="201.51" width="5.5" height="5.5" fill="#e0581c"/>
<rect x="482.25" y="203.48" width="5.5" height="5.5" fill="#e0581c"/>
<rect x="485.35" y="205.35" width="5.5" height="5.5" fill="#e0581c"/>
<rect x="488.45" y="206.90" width="5.5" height="5.5" fill="#e0581c"/>
<rect x="491.60" y="207.75" width="5.5" height="5.5" fill="#e0581c"/>
<rect x="494.65" y="208.09" width="5.5" height="5.5" fill="#e0581c"/>
<rect x="497.73" y="207.72" width="5.5" height="5.5" fill="#e0581c"/>
<rect x="500.79" y="205.77" width="5.5" height="5.5" fill="#e0581c"/>
<rect x="503.90" y="201.75" width="5.5" height="5.5" fill="#e0581c"/>
<rect x="506.36" y="197.13" width="5.5" height="5.5" fill="#e0581c"/>
<rect x="508.28" y="192.20" width="5.5" height="5.5" fill="#e0581c"/>
<rect x="510.38" y="187.36" width="5.5" height="5.5" fill="#e0581c"/>
<rect x="512.64" y="182.57" width="5.5" height="5.5" fill="#e0581c"/>
<rect x="515.00" y="177.82" width="5.5" height="5.5" fill="#e0581c"/>
<rect x="517.31" y="173.06" width="5.5" height="5.5" fill="#e0581c"/>
<rect x="519.67" y="168.31" width="5.5" height="5.5" fill="#e0581c"/>
<rect x="522.23" y="163.63" width="5.5" height="5.5" fill="#e0581c"/>
<rect x="525.31" y="159.29" width="5.5" height="5.5" fill="#e0581c"/>
<rect x="526.15" y="159.25" width="5.5" height="5.5" fill="#e0581c"/>
<rect x="529.18" y="154.92" width="5.5" height="5.5" fill="#e0581c"/>
<rect x="532.25" y="150.75" width="5.5" height="5.5" fill="#e0581c"/>
<rect x="535.29" y="148.47" width="5.5" height="5.5" fill="#e0581c"/>
<rect x="538.43" y="146.66" width="5.5" height="5.5" fill="#e0581c"/>
<rect x="541.61" y="145.27" width="5.5" height="5.5" fill="#e0581c"/>
<rect x="544.76" y="144.56" width="5.5" height="5.5" fill="#e0581c"/>
<rect x="547.81" y="144.96" width="5.5" height="5.5" fill="#e0581c"/>
<rect x="550.81" y="147.13" width="5.5" height="5.5" fill="#e0581c"/>
<rect x="552.90" y="151.99" width="5.5" height="5.5" fill="#e0581c"/>
<rect x="556.00" y="156.40" width="5.5" height="5.5" fill="#e0581c"/>
<rect x="558.70" y="161.06" width="5.5" height="5.5" fill="#e0581c"/>
<rect x="561.24" y="165.63" width="5.5" height="5.5" fill="#e0581c"/>
<rect x="563.54" y="170.39" width="5.5" height="5.5" fill="#e0581c"/>
<rect x="565.94" y="175.11" width="5.5" height="5.5" fill="#e0581c"/>
<rect x="568.45" y="179.76" width="5.5" height="5.5" fill="#e0581c"/>
<rect x="571.45" y="184.08" width="5.5" height="5.5" fill="#e0581c"/>
<rect x="574.55" y="187.08" width="5.5" height="5.5" fill="#e0581c"/>
<rect x="577.63" y="189.44" width="5.5" height="5.5" fill="#e0581c"/>
<rect x="580.75" y="191.00" width="5.5" height="5.5" fill="#e0581c"/>
<rect x="583.90" y="191.88" width="5.5" height="5.5" fill="#e0581c"/>
<rect x="586.95" y="192.12" width="5.5" height="5.5" fill="#e0581c"/>
<rect x="589.95" y="191.65" width="5.5" height="5.5" fill="#e0581c"/>
<rect x="593.02" y="190.08" width="5.5" height="5.5" fill="#e0581c"/>
<rect x="596.13" y="187.84" width="5.5" height="5.5" fill="#e0581c"/>
<rect x="599.13" y="185.17" width="5.5" height="5.5" fill="#e0581c"/>
<rect x="602.16" y="181.93" width="5.5" height="5.5" fill="#e0581c"/>
<rect x="605.19" y="177.82" width="5.5" height="5.5" fill="#e0581c"/>
<rect x="608.22" y="174.53" width="5.5" height="5.5" fill="#e0581c"/>
<rect x="611.35" y="171.88" width="5.5" height="5.5" fill="#e0581c"/>
<rect x="614.39" y="169.46" width="5.5" height="5.5" fill="#e0581c"/>
<rect x="617.50" y="167.14" width="5.5" height="5.5" fill="#e0581c"/>
<rect x="620.67" y="165.23" width="5.5" height="5.5" fill="#e0581c"/>
<rect x="623.71" y="163.55" width="5.5" height="5.5" fill="#e0581c"/>
<rect x="626.76" y="162.37" width="5.5" height="5.5" fill="#e0581c"/>
<rect x="629.85" y="161.34" width="5.5" height="5.5" fill="#e0581c"/>
<rect x="632.85" y="160.72" width="5.5" height="5.5" fill="#e0581c"/>
<rect x="635.87" y="160.23" width="5.5" height="5.5" fill="#e0581c"/>
<rect x="638.92" y="159.92" width="5.5" height="5.5" fill="#e0581c"/>
<rect x="642.12" y="159.38" width="5.5" height="5.5" fill="#e0581c"/>
<rect x="645.25" y="158.65" width="5.5" height="5.5" fill="#e0581c"/>
<rect x="648.26" y="154.33" width="5.5" height="5.5" fill="#e0581c"/>
<rect x="650.28" y="149.42" width="5.5" height="5.5" fill="#e0581c"/>
<rect x="654.25" y="143.35" width="5.5" height="5.5" fill="#e0581c"/>
<rect x="656.95" y="139.05" width="5.5" height="5.5" fill="#e0581c"/>
<rect x="658.55" y="131.65" width="5.5" height="5.5" fill="#e0581c"/>
<rect x="661.75" y="125.75" width="5.5" height="5.5" fill="#e0581c"/>
<rect x="663.35" y="117.25" width="5.5" height="5.5" fill="#e0581c"/>
<rect x="667.05" y="107.65" width="5.5" height="5.5" fill="#e0581c"/>
<circle cx="398.40" cy="105.70" r="2.9" fill="#8e5549"/>
<circle cx="420.30" cy="105.20" r="2.9" fill="#8e5549"/>
<circle cx="432.40" cy="113.50" r="2.9" fill="#8e5549"/>
<circle cx="441.60" cy="144.60" r="2.9" fill="#8e5549"/>
<circle cx="447.40" cy="173.70" r="2.9" fill="#8e5549"/>
<circle cx="449.10" cy="178.69" r="2.9" fill="#8e5549"/>
<circle cx="451.02" cy="183.54" r="2.9" fill="#8e5549"/>
<circle cx="454.07" cy="186.73" r="2.9" fill="#8e5549"/>
<circle cx="457.07" cy="190.86" r="2.9" fill="#8e5549"/>
<circle cx="460.08" cy="195.29" r="2.9" fill="#8e5549"/>
<circle cx="463.18" cy="199.39" r="2.9" fill="#8e5549"/>
<circle cx="466.33" cy="202.56" r="2.9" fill="#8e5549"/>
<circle cx="469.35" cy="204.93" r="2.9" fill="#8e5549"/>
<circle cx="472.39" cy="207.28" r="2.9" fill="#8e5549"/>
<circle cx="475.47" cy="209.61" r="2.9" fill="#8e5549"/>
<circle cx="478.57" cy="211.55" r="2.9" fill="#8e5549"/>
<circle cx="481.61" cy="213.20" r="2.9" fill="#8e5549"/>
<circle cx="484.78" cy="214.66" r="2.9" fill="#8e5549"/>
<circle cx="487.90" cy="215.83" r="2.9" fill="#8e5549"/>
<circle cx="490.96" cy="216.99" r="2.9" fill="#8e5549"/>
<circle cx="494.14" cy="217.61" r="2.9" fill="#8e5549"/>
<circle cx="497.22" cy="217.70" r="2.9" fill="#8e5549"/>
<circle cx="500.33" cy="217.33" r="2.9" fill="#8e5549"/>
<circle cx="503.45" cy="216.05" r="2.9" fill="#8e5549"/>
<circle cx="506.30" cy="211.61" r="2.9" fill="#8e5549"/>
<circle cx="508.19" cy="206.71" r="2.9" fill="#8e5549"/>
<circle cx="510.01" cy="201.71" r="2.9" fill="#8e5549"/>
<circle cx="512.09" cy="196.82" r="2.9" fill="#8e5549"/>
<circle cx="514.50" cy="192.12" r="2.9" fill="#8e5549"/>
<circle cx="517.10" cy="187.53" r="2.9" fill="#8e5549"/>
<circle cx="519.79" cy="183.00" r="2.9" fill="#8e5549"/>
<circle cx="522.55" cy="178.41" r="2.9" fill="#8e5549"/>
<circle cx="525.32" cy="173.82" r="2.9" fill="#8e5549"/>
<circle cx="528.32" cy="169.38" r="2.9" fill="#8e5549"/>
<circle cx="531.40" cy="165.85" r="2.9" fill="#8e5549"/>
<circle cx="534.45" cy="162.85" r="2.9" fill="#8e5549"/>
<circle cx="537.58" cy="159.48" r="2.9" fill="#8e5549"/>
<circle cx="540.61" cy="157.37" r="2.9" fill="#8e5549"/>
<circle cx="543.76" cy="155.42" r="2.9" fill="#8e5549"/>
<circle cx="546.80" cy="153.80" r="2.9" fill="#8e5549"/>
<circle cx="549.80" cy="153.80" r="2.9" fill="#8e5549"/>
<circle cx="552.61" cy="157.82" r="2.9" fill="#8e5549"/>
<circle cx="555.45" cy="162.28" r="2.9" fill="#8e5549"/>
<circle cx="558.51" cy="166.12" r="2.9" fill="#8e5549"/>
<circle cx="561.07" cy="170.75" r="2.9" fill="#8e5549"/>
<circle cx="562.87" cy="175.78" r="2.9" fill="#8e5549"/>
<circle cx="565.08" cy="180.54" r="2.9" fill="#8e5549"/>
<circle cx="567.90" cy="184.98" r="2.9" fill="#8e5549"/>
<circle cx="570.50" cy="189.55" r="2.9" fill="#8e5549"/>
<circle cx="573.53" cy="193.36" r="2.9" fill="#8e5549"/>
<circle cx="576.55" cy="196.07" r="2.9" fill="#8e5549"/>
<circle cx="579.65" cy="198.03" r="2.9" fill="#8e5549"/>
<circle cx="582.77" cy="199.55" r="2.9" fill="#8e5549"/>
<circle cx="585.94" cy="200.78" r="2.9" fill="#8e5549"/>
<circle cx="589.12" cy="202.22" r="2.9" fill="#8e5549"/>
<circle cx="592.13" cy="202.48" r="2.9" fill="#8e5549"/>
<circle cx="595.18" cy="201.29" r="2.9" fill="#8e5549"/>
<circle cx="598.24" cy="199.72" r="2.9" fill="#8e5549"/>
<circle cx="601.31" cy="197.76" r="2.9" fill="#8e5549"/>
<circle cx="604.37" cy="195.16" r="2.9" fill="#8e5549"/>
<circle cx="607.39" cy="192.19" r="2.9" fill="#8e5549"/>
<circle cx="610.54" cy="189.32" r="2.9" fill="#8e5549"/>
<circle cx="613.59" cy="186.64" r="2.9" fill="#8e5549"/>
<circle cx="616.59" cy="182.27" r="2.9" fill="#8e5549"/>
<circle cx="619.71" cy="178.61" r="2.9" fill="#8e5549"/>
<circle cx="622.79" cy="176.42" r="2.9" fill="#8e5549"/>
<circle cx="625.94" cy="175.46" r="2.9" fill="#8e5549"/>
<circle cx="629.06" cy="174.45" r="2.9" fill="#8e5549"/>
<circle cx="632.12" cy="173.31" r="2.9" fill="#8e5549"/>
<circle cx="635.20" cy="171.01" r="2.9" fill="#8e5549"/>
<circle cx="638.30" cy="171.47" r="2.9" fill="#8e5549"/>
<circle cx="641.44" cy="172.74" r="2.9" fill="#8e5549"/>
<circle cx="644.49" cy="173.26" r="2.9" fill="#8e5549"/>
<circle cx="647.61" cy="174.10" r="2.9" fill="#8e5549"/>
<circle cx="650.62" cy="171.57" r="2.9" fill="#8e5549"/>
<circle cx="652.92" cy="166.87" r="2.9" fill="#8e5549"/>
<circle cx="654.78" cy="161.96" r="2.9" fill="#8e5549"/>
<circle cx="656.40" cy="156.97" r="2.9" fill="#8e5549"/>
<circle cx="660.20" cy="147.10" r="2.9" fill="#8e5549"/>
<circle cx="662.90" cy="139.70" r="2.9" fill="#8e5549"/>
<circle cx="666.10" cy="130.60" r="2.9" fill="#8e5549"/>
<circle cx="669.50" cy="120.20" r="2.9" fill="#8e5549"/>
<path d="M437.50 226.0v-5M437.50 1.4v5M496.98 226.0v-5M496.98 1.4v5M556.46 226.0v-5M556.46 1.4v5M615.94 226.0v-5M615.94 1.4v5M675.42 226.0v-5M675.42 1.4v5M385.1 189.20h5M683.6 189.20h-5M385.1 147.35h5M683.6 147.35h-5M385.1 105.50h5M683.6 105.50h-5M385.1 63.65h5M683.6 63.65h-5M385.1 21.80h5M683.6 21.80h-5" class="tmaj"/>
<path d="M392.89 226.0v-2.7M392.89 1.4v2.7M407.76 226.0v-2.7M407.76 1.4v2.7M422.63 226.0v-2.7M422.63 1.4v2.7M437.50 226.0v-2.7M437.50 1.4v2.7M452.37 226.0v-2.7M452.37 1.4v2.7M467.24 226.0v-2.7M467.24 1.4v2.7M482.11 226.0v-2.7M482.11 1.4v2.7M496.98 226.0v-2.7M496.98 1.4v2.7M511.85 226.0v-2.7M511.85 1.4v2.7M526.72 226.0v-2.7M526.72 1.4v2.7M541.59 226.0v-2.7M541.59 1.4v2.7M556.46 226.0v-2.7M556.46 1.4v2.7M571.33 226.0v-2.7M571.33 1.4v2.7M586.20 226.0v-2.7M586.20 1.4v2.7M601.07 226.0v-2.7M601.07 1.4v2.7M615.94 226.0v-2.7M615.94 1.4v2.7M630.81 226.0v-2.7M630.81 1.4v2.7M645.68 226.0v-2.7M645.68 1.4v2.7M660.55 226.0v-2.7M660.55 1.4v2.7M675.42 226.0v-2.7M675.42 1.4v2.7M385.1 222.68h2.7M683.6 222.68h-2.7M385.1 214.31h2.7M683.6 214.31h-2.7M385.1 205.94h2.7M683.6 205.94h-2.7M385.1 197.57h2.7M683.6 197.57h-2.7M385.1 189.20h2.7M683.6 189.20h-2.7M385.1 180.83h2.7M683.6 180.83h-2.7M385.1 172.46h2.7M683.6 172.46h-2.7M385.1 164.09h2.7M683.6 164.09h-2.7M385.1 155.72h2.7M683.6 155.72h-2.7M385.1 147.35h2.7M683.6 147.35h-2.7M385.1 138.98h2.7M683.6 138.98h-2.7M385.1 130.61h2.7M683.6 130.61h-2.7M385.1 122.24h2.7M683.6 122.24h-2.7M385.1 113.87h2.7M683.6 113.87h-2.7M385.1 105.50h2.7M683.6 105.50h-2.7M385.1 97.13h2.7M683.6 97.13h-2.7M385.1 88.76h2.7M683.6 88.76h-2.7M385.1 80.39h2.7M683.6 80.39h-2.7M385.1 72.02h2.7M683.6 72.02h-2.7M385.1 63.65h2.7M683.6 63.65h-2.7M385.1 55.28h2.7M683.6 55.28h-2.7M385.1 46.91h2.7M683.6 46.91h-2.7M385.1 38.54h2.7M683.6 38.54h-2.7M385.1 30.17h2.7M683.6 30.17h-2.7M385.1 21.80h2.7M683.6 21.80h-2.7M385.1 13.43h2.7M683.6 13.43h-2.7M385.1 5.06h2.7M683.6 5.06h-2.7" class="tmin"/>
<path d="M385.1 0V226.5" fill="none" stroke="#3a3a3a" stroke-width="1.5"/><path d="M683.6 0V226.5" fill="none" stroke="#5a5a5a" stroke-width="1.5"/><path d="M384.6 226.0H684.1" fill="none" stroke="#111" stroke-width="1.15"/><rect x="384.55" y="0" width="299.6" height="1.9" fill="#8a8a8a"/>
<rect x="172.8" y="6.2" width="151.8" height="66" rx="2.5" fill="#fff" stroke="#d0d0d0" stroke-width="1"/>
<polygon points="191.90,16.00 190.20,13.06 186.80,13.06 185.10,16.00 186.80,18.94 190.20,18.94" fill="#2ab3b8"/>
<polygon points="191.44,30.20 188.50,28.50 185.56,30.20 185.56,33.60 188.50,35.30 191.44,33.60" fill="#2ecc3a"/>
<polygon points="188.50,43.60 187.37,46.05 184.70,46.36 186.67,48.19 186.15,50.84 188.50,49.52 190.85,50.84 190.33,48.19 192.30,46.36 189.63,46.05" fill="#ffd21a"/>
<circle cx="188.50" cy="63.60" r="3.55" fill="#3b3b3b"/>
<rect x="466.3" y="6.8" width="135.7" height="66.4" rx="2.5" fill="#fff" stroke="#d0d0d0" stroke-width="1"/>
<path d="M479.90 14.69L481.09 13.50L482.60 15.01L484.11 13.50L485.30 14.69L483.79 16.20L485.30 17.71L484.11 18.90L482.60 17.39L481.09 18.90L479.90 17.71L481.41 16.20Z" fill="#d62d2d"/>
<polygon points="482.70,29.60 485.10,32.00 482.70,34.40 480.30,32.00" fill="#8a8a8a"/>
<rect x="479.80" y="45.20" width="5.2" height="5.2" fill="#e0581c"/>
<circle cx="482.50" cy="63.80" r="2.8" fill="#8e5549"/>
<rect x="47.15" y="202.45" width="57.1" height="16.0" rx="2.6" fill="#fff" stroke="#000" stroke-width="1.7"/>
<rect x="399.75" y="199.05" width="57.7" height="16.2" rx="2.6" fill="#fff" stroke="#000" stroke-width="1.7"/>
<text x="25.74" y="239.60" font-size="12.2" textLength="17.11" lengthAdjust="spacingAndGlyphs">3.0</text>
<text x="73.01" y="239.60" font-size="12.2" textLength="17.41" lengthAdjust="spacingAndGlyphs">3.2</text>
<text x="120.31" y="239.60" font-size="12.2" textLength="16.81" lengthAdjust="spacingAndGlyphs">3.4</text>
<text x="167.58" y="239.60" font-size="12.2" textLength="17.11" lengthAdjust="spacingAndGlyphs">3.6</text>
<text x="214.86" y="239.60" font-size="12.2" textLength="17.11" lengthAdjust="spacingAndGlyphs">3.8</text>
<text x="262.42" y="239.60" font-size="12.2" textLength="16.81" lengthAdjust="spacingAndGlyphs">4.0</text>
<text x="309.70" y="239.60" font-size="12.2" textLength="17.11" lengthAdjust="spacingAndGlyphs">4.2</text>
<text x="19.80" y="222.50" font-size="12.2" textLength="6.09" lengthAdjust="spacingAndGlyphs">2</text>
<text x="19.55" y="189.00" font-size="12.2" textLength="6.09" lengthAdjust="spacingAndGlyphs">3</text>
<text x="19.30" y="155.50" font-size="12.2" textLength="6.09" lengthAdjust="spacingAndGlyphs">4</text>
<text x="19.55" y="122.00" font-size="12.2" textLength="6.09" lengthAdjust="spacingAndGlyphs">5</text>
<text x="19.55" y="88.50" font-size="12.2" textLength="6.09" lengthAdjust="spacingAndGlyphs">6</text>
<text x="19.55" y="55.00" font-size="12.2" textLength="6.09" lengthAdjust="spacingAndGlyphs">7</text>
<text x="19.55" y="21.50" font-size="12.2" textLength="6.09" lengthAdjust="spacingAndGlyphs">8</text>
<text x="149.20" y="256.80" font-size="12.2" textLength="62.78" lengthAdjust="spacingAndGlyphs">Voltage [V]</text>
<text x="157.30" y="279.00" font-size="12.2" textLength="16.35" lengthAdjust="spacingAndGlyphs">(a)</text>
<text transform="translate(9.80,200.98) rotate(-90)" x="0" y="0" font-size="12.2" textLength="149.00" lengthAdjust="spacingAndGlyphs">Diffusion resistance <tspan font-style="italic">k</tspan> [mΩ</text>
<text transform="translate(10.00,34.46) rotate(-90)" x="0" y="0" font-size="12.2" textLength="4.99" lengthAdjust="spacingAndGlyphs"><tspan font-style="italic">s</tspan></text>
<text class="sans" x="429.56" y="239.90" font-size="11.6" textLength="15.75" lengthAdjust="spacingAndGlyphs">3.4</text>
<text class="sans" x="489.04" y="239.90" font-size="11.6" textLength="15.75" lengthAdjust="spacingAndGlyphs">3.6</text>
<text class="sans" x="548.52" y="239.90" font-size="11.6" textLength="15.75" lengthAdjust="spacingAndGlyphs">3.8</text>
<text class="sans" x="608.25" y="239.90" font-size="11.6" textLength="15.50" lengthAdjust="spacingAndGlyphs">4.0</text>
<text class="sans" x="667.73" y="239.90" font-size="11.6" textLength="15.75" lengthAdjust="spacingAndGlyphs">4.2</text>
<text class="sans" x="372.65" y="193.10" font-size="11.6" textLength="6.45" lengthAdjust="spacingAndGlyphs">4</text>
<text class="sans" x="372.90" y="151.25" font-size="11.6" textLength="6.45" lengthAdjust="spacingAndGlyphs">5</text>
<text class="sans" x="372.90" y="109.40" font-size="11.6" textLength="6.45" lengthAdjust="spacingAndGlyphs">6</text>
<text class="sans" x="372.90" y="67.55" font-size="11.6" textLength="6.45" lengthAdjust="spacingAndGlyphs">7</text>
<text class="sans" x="372.90" y="25.70" font-size="11.6" textLength="6.45" lengthAdjust="spacingAndGlyphs">8</text>
<text x="504.10" y="256.80" font-size="12.2" textLength="61.36" lengthAdjust="spacingAndGlyphs">Voltage [V]</text>
<text x="511.02" y="279.00" font-size="12.2" textLength="16.53" lengthAdjust="spacingAndGlyphs">(b)</text>
<text transform="translate(363.80,198.78) rotate(-90)" x="0" y="0" font-size="12.0" textLength="145.84" lengthAdjust="spacingAndGlyphs">Diffusion resistance <tspan class="sans" font-style="italic">k</tspan> [mΩ</text>
<text transform="translate(363.90,35.21) rotate(-90)" x="0" y="0" font-size="11.6" textLength="4.97" lengthAdjust="spacingAndGlyphs"><tspan class="sans">s</tspan></text>
<text x="208.57" y="19.50" font-size="12.2" textLength="110.62" lengthAdjust="spacingAndGlyphs">1000 mHz PC-NPD</text>
<text x="208.84" y="35.20" font-size="12.2" textLength="94.99" lengthAdjust="spacingAndGlyphs">500 mHz PC-PD</text>
<text x="208.54" y="50.90" font-size="12.2" textLength="88.88" lengthAdjust="spacingAndGlyphs">10 mHz PC-PD</text>
<text x="209.15" y="66.60" font-size="12.2" textLength="37.18" lengthAdjust="spacingAndGlyphs">CC-ref</text>
<text x="502.24" y="19.60" font-size="12.2" textLength="35.82" lengthAdjust="spacingAndGlyphs">1C ref</text>
<text x="502.54" y="35.30" font-size="12.2" textLength="95.28" lengthAdjust="spacingAndGlyphs">50 Hz PC-PD-50</text>
<text x="502.25" y="51.00" font-size="12.2" textLength="95.57" lengthAdjust="spacingAndGlyphs">10 Hz PC-PD-50</text>
<text x="502.24" y="66.70" font-size="12.2" textLength="89.28" lengthAdjust="spacingAndGlyphs">1 Hz PC-PD-50</text>
<text x="49.98" y="213.90" font-size="12.2" textLength="51.15" lengthAdjust="spacingAndGlyphs">SoH 91%</text>
<text x="402.18" y="210.10" font-size="12.2" textLength="51.36" lengthAdjust="spacingAndGlyphs">SoH 77%</text>
<path d="M7.4,43.3 L11.9,40.4 L1.5,34.6 V27.5 H12.4 V28.7 M1.3,46 L12.8,51.1" fill="none" stroke="#1e1e1e" stroke-width="0.85"/>
<path d="M361.6,44.1 L365.7,41.5 L355.5,35.1 V28.7 H366.4 V29.9 M355.4,46.8 L366.5,51.1" fill="none" stroke="#1e1e1e" stroke-width="0.85"/>
</svg></body></html>
